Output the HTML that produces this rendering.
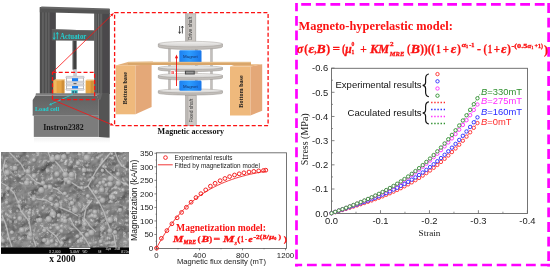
<!DOCTYPE html>
<html><head><meta charset="utf-8"><style>
html,body{margin:0;padding:0;background:#fff;}
body{width:550px;height:280px;overflow:hidden;position:relative;}
svg{position:absolute;left:0;top:0;display:block;}
</style></head><body>
<svg width="550" height="280" viewBox="0 0 550 280">
<rect width="550" height="280" fill="#fff"/>
<rect x="39.8" y="7" width="15.8" height="87" fill="#4e4e4e"/>
<rect x="42.4" y="11" width="1.1" height="83" fill="#6d6d6d"/>
<rect x="45.5" y="11" width="1.1" height="83" fill="#6d6d6d"/>
<rect x="48.4" y="11" width="1.1" height="83" fill="#6d6d6d"/>
<rect x="49.8" y="11" width="5.8" height="83" fill="#4a484b"/>
<rect x="94.2" y="9" width="15.4" height="85" fill="#4e4e4e"/>
<rect x="95.5" y="13" width="1.1" height="81" fill="#6d6d6d"/>
<rect x="98.0" y="13" width="1.1" height="81" fill="#6d6d6d"/>
<rect x="100.5" y="13" width="1.1" height="81" fill="#6d6d6d"/>
<rect x="103" y="13" width="6.6" height="81" fill="#4a484b"/>
<polygon points="39.8,7.6 109.6,9.6 109.6,14 39.8,12.2" fill="#545454"/>
<polygon points="41.5,6.6 109.6,8.6 109.6,10.2 39.8,8.6" fill="#666"/>
<polygon points="51.8,29.2 94.6,30.4 94.6,40.8 51.8,40.6" fill="#5a5a5a"/>
<polygon points="51.8,29.2 94.6,30.4 94.6,31.2 51.8,30.0" fill="#6a6a6a"/>
<rect x="72.7" y="40.6" width="3.9" height="29" fill="#404040"/>
<rect x="72.7" y="40.6" width="1.1" height="29" fill="#5c5c5c"/>
<path d="M54.2,32.5 V39 M53.2,37.6 L54.2,39.4 L55.2,37.6 M57.3,39.4 V32.8 M56.3,34.2 L57.3,32.4 L58.3,34.2" stroke="#1fd3d3" stroke-width="0.9" fill="none"/>
<text x="60" y="38.6" font-family="Liberation Serif, Times New Roman, serif" font-weight="bold" font-size="7.4" fill="#21d2d2" textLength="26.4" lengthAdjust="spacingAndGlyphs">Actuator</text>
<rect x="73.2" y="69.6" width="3.7" height="6.4" fill="#c9ccd2"/>
<rect x="53.4" y="80.2" width="11" height="13.4" fill="#e7a545"/>
<rect x="53.4" y="80.2" width="3.2" height="13.4" fill="#f0b860"/>
<rect x="61.6" y="80.2" width="2.8" height="13.4" fill="#cf8f3a"/>
<polygon points="53.4,80.2 55.5,79.2 65.5,79.2 64.4,80.2" fill="#f4c27a"/>
<rect x="85.6" y="80.4" width="8.2" height="13.6" fill="#e7a545"/>
<rect x="90.6" y="80.4" width="3.2" height="13.6" fill="#cf8f3a"/>
<polygon points="85.6,80.4 86.8,79.4 94,79.4 93.8,80.4" fill="#f4c27a"/>
<rect x="66.2" y="77" width="0.8" height="13" fill="#aaa"/>
<rect x="83.2" y="77" width="0.8" height="13" fill="#aaa"/>
<rect x="65.9" y="76.3" width="18.3" height="1.9" rx="0.9" fill="#e2e2e6" stroke="#9a9aa2" stroke-width="0.45"/>
<rect x="65.9" y="81.2" width="18.3" height="1.8" rx="0.9" fill="#e2e2e6" stroke="#9a9aa2" stroke-width="0.45"/>
<rect x="65.9" y="84.2" width="18.3" height="1.8" rx="0.9" fill="#e2e2e6" stroke="#9a9aa2" stroke-width="0.45"/>
<rect x="65.9" y="88.5" width="18.3" height="1.8" rx="0.9" fill="#e2e2e6" stroke="#9a9aa2" stroke-width="0.45"/>
<rect x="72" y="78.2" width="6.1" height="3" fill="#1a7ef0"/>
<rect x="72" y="86.0" width="6.1" height="2.5" fill="#1a7ef0"/>
<rect x="73.5" y="83.0" width="3" height="1.2" fill="#666"/>
<rect x="71.4" y="90.1" width="6.3" height="3.6" fill="#3fc4c4"/>
<rect x="72.6" y="91" width="1" height="2.4" fill="#236"/><rect x="75.4" y="91" width="1" height="2.4" fill="#236"/>
<defs><linearGradient id="bup" x1="0" x2="0" y1="0" y2="1"><stop offset="0" stop-color="#626262"/><stop offset="1" stop-color="#717171"/></linearGradient></defs>
<polygon points="32.7,100 35.6,95.6 97,95.6 98.8,100 98.8,115.2 32.7,115.2" fill="url(#bup)"/>
<polygon points="35.9,93.2 100.5,93.2 97,95.6 35.6,95.6" fill="#808080"/>
<polygon points="98.8,100 97,95.6 100.5,93.2 109.6,92.8 109.6,138.2 98.8,137" fill="#545454"/>
<polygon points="98.8,100 97,95.6 100.5,93.2 102.5,93.1 100.6,99.6" fill="#666"/>
<rect x="32.7" y="114.6" width="66.1" height="1" fill="#6e6e6e"/>
<rect x="33.8" y="115.6" width="65" height="21.3" fill="#7c7c7c"/>
<defs><linearGradient id="refl" x1="0" x2="0" y1="0" y2="1"><stop offset="0" stop-color="#f1f1f1"/><stop offset="1" stop-color="#fff"/></linearGradient></defs>
<rect x="34" y="137.6" width="76" height="5.5" fill="url(#refl)"/>
<text x="43.2" y="130.4" font-family="Liberation Serif, Times New Roman, serif" font-weight="bold" font-size="8.6" fill="#151515" textLength="40.4" lengthAdjust="spacingAndGlyphs">Instron2382</text>
<path d="M50.2,104.6 L73,94.2" stroke="#22d3d3" stroke-width="0.8"/>
<path d="M49.6,104.9 l2.3,-0.1 M49.6,104.9 l1.4,-1.8" stroke="#22d3d3" stroke-width="0.8"/>
<text x="35" y="110.7" font-family="Liberation Serif, Times New Roman, serif" font-weight="bold" font-size="7" fill="#22d3d3" textLength="24.2" lengthAdjust="spacingAndGlyphs">Load cell</text>
<polygon points="115.7,65.5 128,62 153,61.5 152,64.5 135.8,65.2" fill="#e3b07a"/>
<rect x="115.7" y="65.3" width="19.8" height="49" fill="#efb97c"/>
<polygon points="135.5,65.3 151.6,64.5 151.6,107 135.5,114.3" fill="#e4a878"/>
<text transform="translate(127.1,88.2) rotate(-90)" text-anchor="middle" font-family="Liberation Serif, Times New Roman, serif" font-weight="bold" font-size="6.1" fill="#1a1a1a">Bottom base</text>
<polygon points="230,66.6 236,64.2 262.2,64.2 250.4,66.6" fill="#e8b47c"/>
<rect x="230" y="66.6" width="20.4" height="48.9" fill="#efb97c"/>
<polygon points="250.4,66.6 262.2,64.2 262.2,110.7 250.4,115.5" fill="#e4a878"/>
<text transform="translate(242.8,91.5) rotate(-90)" text-anchor="middle" font-family="Liberation Serif, Times New Roman, serif" font-weight="bold" font-size="6.1" fill="#1a1a1a">Bottom base</text>
<defs><linearGradient id="sh" x1="0" x2="1"><stop offset="0" stop-color="#a8a8a8"/><stop offset="0.5" stop-color="#d8d6d2"/><stop offset="1" stop-color="#9a9a9a"/></linearGradient><linearGradient id="pl" x1="0" x2="0" y1="0" y2="1"><stop offset="0" stop-color="#f2f1f0"/><stop offset="1" stop-color="#d2d0ce"/></linearGradient><linearGradient id="mg" x1="0" x2="1"><stop offset="0" stop-color="#1c80f0"/><stop offset="0.45" stop-color="#2c9cff"/><stop offset="1" stop-color="#1876ea"/></linearGradient></defs>
<rect x="185.6" y="13.8" width="10.2" height="29.5" fill="#cdc9c5" stroke="#9d9995" stroke-width="0.6"/>
<rect x="186.2" y="14.2" width="2.2" height="29" fill="#b9b5b1"/>
<text transform="translate(192.4,28.4) rotate(-90)" text-anchor="middle" font-family="Liberation Sans, Arial, sans-serif" font-size="4.9" fill="#3a3a3a">Drive shaft</text>
<rect x="185.6" y="95.4" width="10.6" height="30" fill="#cdc9c5" stroke="#9d9995" stroke-width="0.6"/>
<rect x="186.2" y="95.8" width="2.2" height="29.5" fill="#b9b5b1"/>
<text transform="translate(192.6,110.5) rotate(-90)" text-anchor="middle" font-family="Liberation Sans, Arial, sans-serif" font-size="4.9" fill="#3a3a3a">Fixed shaft</text>
<rect x="168.4" y="48" width="2.1" height="42" fill="#c2bebb" stroke="#9a9794" stroke-width="0.3"/>
<rect x="195.2" y="48" width="2.1" height="42" fill="#c2bebb" stroke="#9a9794" stroke-width="0.3"/>
<rect x="210.4" y="48" width="2.1" height="42" fill="#c2bebb" stroke="#9a9794" stroke-width="0.3"/>
<path d="M158.3,44.05 V46.75 A32.1,2.75 0 0 0 222.5,46.75 V44.05 Z" fill="#c2beba" stroke="#8a8682" stroke-width="0.45"/>
<ellipse cx="190.4" cy="44.05" rx="32.1" ry="2.75" fill="url(#pl)" stroke="#9c9894" stroke-width="0.45"/>
<path d="M158.3,67.62 V69.68 A32.1,1.92 0 0 0 222.5,69.68 V67.62 Z" fill="#c2beba" stroke="#8a8682" stroke-width="0.45"/>
<ellipse cx="190.4" cy="67.62" rx="32.1" ry="1.92" fill="url(#pl)" stroke="#9c9894" stroke-width="0.45"/>
<path d="M158.3,75.55 V77.86 A32.1,2.14 0 0 0 222.5,77.86 V75.55 Z" fill="#c2beba" stroke="#8a8682" stroke-width="0.45"/>
<ellipse cx="190.4" cy="75.55" rx="32.1" ry="2.14" fill="url(#pl)" stroke="#9c9894" stroke-width="0.45"/>
<path d="M158.3,90.92 V93.08 A32.1,2.01 0 0 0 222.5,93.08 V90.92 Z" fill="#c2beba" stroke="#8a8682" stroke-width="0.45"/>
<ellipse cx="190.4" cy="90.92" rx="32.1" ry="2.01" fill="url(#pl)" stroke="#9c9894" stroke-width="0.45"/>
<rect x="179.3" y="50.2" width="22.2" height="12.6" rx="1.2" fill="url(#mg)"/>
<text x="190.4" y="58.3" text-anchor="middle" font-family="Liberation Sans, Arial, sans-serif" font-size="4.4" fill="#15306a">Magnet</text>
<rect x="179.3" y="80.6" width="22.2" height="10.2" rx="1.2" fill="url(#mg)"/>
<text x="190.4" y="87.6" text-anchor="middle" font-family="Liberation Sans, Arial, sans-serif" font-size="4.4" fill="#15306a">Magnet</text>
<rect x="128" y="61.9" width="123" height="3.1" fill="#d9a66a"/>
<rect x="128" y="61.9" width="123" height="0.9" fill="#e9c290"/>
<rect x="184.9" y="70.7" width="9.9" height="3.8" fill="#4a4a4a"/>
<rect x="186" y="71.6" width="7.7" height="1.9" fill="#9a9a9a"/>
<path d="M176.5,86 L176.5,57" stroke="#ee1111" stroke-width="0.9"/>
<polygon points="174.9,58.2 176.5,54.4 178.1,58.2" fill="#ee1111"/>
<rect x="170.6" y="70.2" width="4.2" height="4.2" fill="#fff"/>
<text x="172.7" y="73.8" text-anchor="middle" font-family="Liberation Serif, Times New Roman, serif" font-size="4.4" font-weight="bold" fill="#e11">B</text>
<path d="M179.6,26 L179.6,33 M178.6,31.8 L179.6,33.5 L180.6,31.8" stroke="#111" stroke-width="0.7" fill="none"/>
<path d="M182.4,33.5 L182.4,26.5 M181.4,27.7 L182.4,26 L183.4,27.7" stroke="#111" stroke-width="0.7" fill="none"/>
<text x="157.6" y="133.6" font-family="Liberation Serif, Times New Roman, serif" font-weight="bold" font-size="8" fill="#111">Magnetic accessory</text>
<rect x="114.6" y="12.6" width="153.5" height="113.1" fill="none" stroke="#fb1212" stroke-width="1.3" stroke-dasharray="4,2.2"/>
<rect x="52.5" y="72.4" width="42.1" height="27.3" fill="none" stroke="#fb1212" stroke-width="1.3" stroke-dasharray="4,2.2"/>
<path d="M52.5,72.4 L112.5,14.3 M52.5,99.7 L112.3,124.8" stroke="#fb1212" stroke-width="0.8"/>
<polygon points="113.8,13 110.2,14.4 112.3,16.4" fill="#fb1212"/>
<polygon points="114,125.5 110.1,125.6 111.2,122.9" fill="#fb1212"/>
<defs><filter id="semf" x="0" y="0" width="1" height="1" color-interpolation-filters="sRGB"><feTurbulence type="fractalNoise" baseFrequency="0.07" numOctaves="3" seed="11" result="n"/><feColorMatrix in="n" type="matrix" values="0 0 0 0 0  0 0 0 0 0  0 0 0 0 0  1 0 0 0 0" result="h"/><feDiffuseLighting in="h" lighting-color="#fff" surfaceScale="2.2" diffuseConstant="1" result="l"><feDistantLight azimuth="235" elevation="55"/></feDiffuseLighting><feComponentTransfer><feFuncR type="linear" slope="0.62" intercept="0.0"/><feFuncG type="linear" slope="0.62" intercept="0.0"/><feFuncB type="linear" slope="0.62" intercept="0.0"/></feComponentTransfer></filter><filter id="semf2" x="0" y="0" width="1" height="1" color-interpolation-filters="sRGB"><feTurbulence type="turbulence" baseFrequency="0.22" numOctaves="2" seed="4" result="n"/><feColorMatrix in="n" type="matrix" values="0 0 0 0 1  0 0 0 0 1  0 0 0 0 1  2.2 0 0 0 -0.55"/></filter><radialGradient id="blob" cx="0.4" cy="0.4" r="0.65"><stop offset="0" stop-color="#c6c6c6"/><stop offset="0.6" stop-color="#a8a8a8"/><stop offset="1" stop-color="#8a8a8a"/></radialGradient><filter id="soft"><feGaussianBlur stdDeviation="0.45"/></filter><clipPath id="semc"><rect x="1" y="152" width="127.5" height="95.6"/></clipPath></defs>
<rect x="1" y="152" width="127.5" height="95.6" fill="#888" filter="url(#semf)"/>
<rect x="1" y="152" width="127.5" height="95.6" fill="#000" filter="url(#semf2)" opacity="0.55"/>
<g clip-path="url(#semc)" filter="url(#soft)">
<path d="M0.9,182.9 L7.9,186.9 L14.9,193.9 L18.9,202.9 L21.9,211.9 L25.9,216.9 L29.9,221.9 L31.9,232.9 L36.9,246.9" stroke="#6a6a6a" stroke-width="1.5" fill="none" opacity="0.35" stroke-linejoin="round"/>
<path d="M0.0,182.0 L7.0,186.0 L14.0,193.0 L18.0,202.0 L21.0,211.0 L25.0,216.0 L29.0,221.0 L31.0,232.0 L36.0,246.0" stroke="#c8c8c8" stroke-width="1.4" fill="none" opacity="0.75" stroke-linejoin="round"/>
<path d="M10.9,153.9 L14.9,157.9 L21.9,164.9 L25.9,171.9 L31.9,177.9 L36.9,182.9 L46.9,186.9 L57.9,189.9 L64.9,195.9" stroke="#6a6a6a" stroke-width="1.5" fill="none" opacity="0.35" stroke-linejoin="round"/>
<path d="M10.0,153.0 L14.0,157.0 L21.0,164.0 L25.0,171.0 L31.0,177.0 L36.0,182.0 L46.0,186.0 L57.0,189.0 L64.0,195.0" stroke="#c8c8c8" stroke-width="1.4" fill="none" opacity="0.75" stroke-linejoin="round"/>
<path d="M48.9,152.9 L50.9,157.9 L56.9,162.9 L61.9,168.9 L66.9,176.9 L71.9,182.9 L77.9,186.9 L82.9,189.9 L88.9,186.9 L96.9,171.9 L101.9,164.9 L107.9,157.9 L111.9,152.9" stroke="#6a6a6a" stroke-width="1.5" fill="none" opacity="0.35" stroke-linejoin="round"/>
<path d="M48.0,152.0 L50.0,157.0 L56.0,162.0 L61.0,168.0 L66.0,176.0 L71.0,182.0 L77.0,186.0 L82.0,189.0 L88.0,186.0 L96.0,171.0 L101.0,164.0 L107.0,157.0 L111.0,152.0" stroke="#c8c8c8" stroke-width="1.4" fill="none" opacity="0.75" stroke-linejoin="round"/>
<path d="M88.9,186.9 L95.9,196.9 L100.9,204.9 L104.9,212.9 L107.9,221.9 L110.9,229.9 L114.9,236.9 L116.9,247.9" stroke="#6a6a6a" stroke-width="1.5" fill="none" opacity="0.35" stroke-linejoin="round"/>
<path d="M88.0,186.0 L95.0,196.0 L100.0,204.0 L104.0,212.0 L107.0,221.0 L110.0,229.0 L114.0,236.0 L116.0,247.0" stroke="#c8c8c8" stroke-width="1.4" fill="none" opacity="0.75" stroke-linejoin="round"/>
<path d="M30.9,197.9 L38.9,199.9 L46.9,200.9 L55.9,205.9 L64.9,209.9 L71.9,212.9 L78.9,216.9" stroke="#6a6a6a" stroke-width="1.5" fill="none" opacity="0.35" stroke-linejoin="round"/>
<path d="M30.0,197.0 L38.0,199.0 L46.0,200.0 L55.0,205.0 L64.0,209.0 L71.0,212.0 L78.0,216.0" stroke="#c8c8c8" stroke-width="1.4" fill="none" opacity="0.75" stroke-linejoin="round"/>
<path d="M104.9,167.9 L107.9,171.9 L114.9,177.9 L121.9,182.9 L130.9,186.9" stroke="#6a6a6a" stroke-width="1.5" fill="none" opacity="0.35" stroke-linejoin="round"/>
<path d="M104.0,167.0 L107.0,171.0 L114.0,177.0 L121.0,182.0 L130.0,186.0" stroke="#c8c8c8" stroke-width="1.4" fill="none" opacity="0.75" stroke-linejoin="round"/>
<path d="M2.9,215.9 L6.9,225.9 L9.9,238.9 L12.9,247.9" stroke="#6a6a6a" stroke-width="1.5" fill="none" opacity="0.35" stroke-linejoin="round"/>
<path d="M2.0,215.0 L6.0,225.0 L9.0,238.0 L12.0,247.0" stroke="#c8c8c8" stroke-width="1.4" fill="none" opacity="0.75" stroke-linejoin="round"/>
<path d="M70.9,218.9 L74.9,226.9 L80.9,232.9 L86.9,240.9 L90.9,247.9" stroke="#6a6a6a" stroke-width="1.5" fill="none" opacity="0.35" stroke-linejoin="round"/>
<path d="M70.0,218.0 L74.0,226.0 L80.0,232.0 L86.0,240.0 L90.0,247.0" stroke="#c8c8c8" stroke-width="1.4" fill="none" opacity="0.75" stroke-linejoin="round"/>
<path d="M115.9,152.9 L118.9,160.9 L122.9,166.9 L129.9,170.9" stroke="#6a6a6a" stroke-width="1.5" fill="none" opacity="0.35" stroke-linejoin="round"/>
<path d="M115.0,152.0 L118.0,160.0 L122.0,166.0 L129.0,170.0" stroke="#c8c8c8" stroke-width="1.4" fill="none" opacity="0.75" stroke-linejoin="round"/>
<path d="M40.9,225.9 L48.9,230.9 L56.9,236.9 L62.9,246.9" stroke="#6a6a6a" stroke-width="1.5" fill="none" opacity="0.35" stroke-linejoin="round"/>
<path d="M40.0,225.0 L48.0,230.0 L56.0,236.0 L62.0,246.0" stroke="#c8c8c8" stroke-width="1.4" fill="none" opacity="0.75" stroke-linejoin="round"/>
<path d="M5.9,160.9 L3.9,170.9 L6.9,176.9" stroke="#6a6a6a" stroke-width="1.5" fill="none" opacity="0.35" stroke-linejoin="round"/>
<path d="M5.0,160.0 L3.0,170.0 L6.0,176.0" stroke="#c8c8c8" stroke-width="1.4" fill="none" opacity="0.75" stroke-linejoin="round"/>
<path d="M92.9,200.9 L86.9,208.9 L84.9,218.9 L90.9,226.9 L96.9,232.9" stroke="#6a6a6a" stroke-width="1.5" fill="none" opacity="0.35" stroke-linejoin="round"/>
<path d="M92.0,200.0 L86.0,208.0 L84.0,218.0 L90.0,226.0 L96.0,232.0" stroke="#c8c8c8" stroke-width="1.4" fill="none" opacity="0.75" stroke-linejoin="round"/>
<circle cx="25.5" cy="171.6" r="1.4" fill="#6e6e6e" opacity="0.45"/>
<circle cx="25.0" cy="171.0" r="1.4" fill="url(#blob)"/>
<circle cx="34.5" cy="176.6" r="2.4" fill="#6e6e6e" opacity="0.45"/>
<circle cx="34.0" cy="176.0" r="2.4" fill="url(#blob)"/>
<circle cx="43.5" cy="183.6" r="2.3" fill="#6e6e6e" opacity="0.45"/>
<circle cx="43.0" cy="183.0" r="2.3" fill="url(#blob)"/>
<circle cx="50.5" cy="187.6" r="2.5" fill="#6e6e6e" opacity="0.45"/>
<circle cx="50.0" cy="187.0" r="2.5" fill="url(#blob)"/>
<circle cx="57.5" cy="174.6" r="2.7" fill="#6e6e6e" opacity="0.45"/>
<circle cx="57.0" cy="174.0" r="2.7" fill="url(#blob)"/>
<circle cx="62.5" cy="160.6" r="2.3" fill="#6e6e6e" opacity="0.45"/>
<circle cx="62.0" cy="160.0" r="2.3" fill="url(#blob)"/>
<circle cx="68.5" cy="152.6" r="2.4" fill="#6e6e6e" opacity="0.45"/>
<circle cx="68.0" cy="152.0" r="2.4" fill="url(#blob)"/>
<circle cx="78.5" cy="163.6" r="2.3" fill="#6e6e6e" opacity="0.45"/>
<circle cx="78.0" cy="163.0" r="2.3" fill="url(#blob)"/>
<circle cx="84.5" cy="170.6" r="2.5" fill="#6e6e6e" opacity="0.45"/>
<circle cx="84.0" cy="170.0" r="2.5" fill="url(#blob)"/>
<circle cx="67.5" cy="196.6" r="1.8" fill="#6e6e6e" opacity="0.45"/>
<circle cx="67.0" cy="196.0" r="1.8" fill="url(#blob)"/>
<circle cx="72.5" cy="203.6" r="2.4" fill="#6e6e6e" opacity="0.45"/>
<circle cx="72.0" cy="203.0" r="2.4" fill="url(#blob)"/>
<circle cx="57.5" cy="205.6" r="2.6" fill="#6e6e6e" opacity="0.45"/>
<circle cx="57.0" cy="205.0" r="2.6" fill="url(#blob)"/>
<circle cx="43.5" cy="208.6" r="1.7" fill="#6e6e6e" opacity="0.45"/>
<circle cx="43.0" cy="208.0" r="1.7" fill="url(#blob)"/>
<circle cx="53.5" cy="214.6" r="3.2" fill="#6e6e6e" opacity="0.45"/>
<circle cx="53.0" cy="214.0" r="3.2" fill="url(#blob)"/>
<circle cx="63.5" cy="220.6" r="2.7" fill="#6e6e6e" opacity="0.45"/>
<circle cx="63.0" cy="220.0" r="2.7" fill="url(#blob)"/>
<circle cx="75.5" cy="210.6" r="3.1" fill="#6e6e6e" opacity="0.45"/>
<circle cx="75.0" cy="210.0" r="3.1" fill="url(#blob)"/>
<circle cx="93.5" cy="178.6" r="1.9" fill="#6e6e6e" opacity="0.45"/>
<circle cx="93.0" cy="178.0" r="1.9" fill="url(#blob)"/>
<circle cx="96.5" cy="192.6" r="2.2" fill="#6e6e6e" opacity="0.45"/>
<circle cx="96.0" cy="192.0" r="2.2" fill="url(#blob)"/>
<circle cx="100.5" cy="183.6" r="1.9" fill="#6e6e6e" opacity="0.45"/>
<circle cx="100.0" cy="183.0" r="1.9" fill="url(#blob)"/>
<circle cx="89.5" cy="160.6" r="1.5" fill="#6e6e6e" opacity="0.45"/>
<circle cx="89.0" cy="160.0" r="1.5" fill="url(#blob)"/>
<circle cx="93.5" cy="153.6" r="1.4" fill="#6e6e6e" opacity="0.45"/>
<circle cx="93.0" cy="153.0" r="1.4" fill="url(#blob)"/>
<circle cx="106.5" cy="185.6" r="1.8" fill="#6e6e6e" opacity="0.45"/>
<circle cx="106.0" cy="185.0" r="1.8" fill="url(#blob)"/>
<circle cx="112.5" cy="197.6" r="3.0" fill="#6e6e6e" opacity="0.45"/>
<circle cx="112.0" cy="197.0" r="3.0" fill="url(#blob)"/>
<circle cx="104.5" cy="228.6" r="1.7" fill="#6e6e6e" opacity="0.45"/>
<circle cx="104.0" cy="228.0" r="1.7" fill="url(#blob)"/>
<circle cx="15.5" cy="168.6" r="2.6" fill="#6e6e6e" opacity="0.45"/>
<circle cx="15.0" cy="168.0" r="2.6" fill="url(#blob)"/>
<circle cx="20.5" cy="176.6" r="1.8" fill="#6e6e6e" opacity="0.45"/>
<circle cx="20.0" cy="176.0" r="1.8" fill="url(#blob)"/>
<circle cx="8.5" cy="195.6" r="1.5" fill="#6e6e6e" opacity="0.45"/>
<circle cx="8.0" cy="195.0" r="1.5" fill="url(#blob)"/>
<circle cx="30.5" cy="210.6" r="1.7" fill="#6e6e6e" opacity="0.45"/>
<circle cx="30.0" cy="210.0" r="1.7" fill="url(#blob)"/>
<circle cx="40.5" cy="220.6" r="2.6" fill="#6e6e6e" opacity="0.45"/>
<circle cx="40.0" cy="220.0" r="2.6" fill="url(#blob)"/>
<circle cx="85.5" cy="224.6" r="2.3" fill="#6e6e6e" opacity="0.45"/>
<circle cx="85.0" cy="224.0" r="2.3" fill="url(#blob)"/>
<circle cx="95.5" cy="212.6" r="2.4" fill="#6e6e6e" opacity="0.45"/>
<circle cx="95.0" cy="212.0" r="2.4" fill="url(#blob)"/>
<circle cx="118.5" cy="174.6" r="2.2" fill="#6e6e6e" opacity="0.45"/>
<circle cx="118.0" cy="174.0" r="2.2" fill="url(#blob)"/>
<circle cx="123.5" cy="190.6" r="1.9" fill="#6e6e6e" opacity="0.45"/>
<circle cx="123.0" cy="190.0" r="1.9" fill="url(#blob)"/>
<circle cx="120.5" cy="210.6" r="2.3" fill="#6e6e6e" opacity="0.45"/>
<circle cx="120.0" cy="210.0" r="2.3" fill="url(#blob)"/>
<circle cx="110.5" cy="220.6" r="3.1" fill="#6e6e6e" opacity="0.45"/>
<circle cx="110.0" cy="220.0" r="3.1" fill="url(#blob)"/>
<circle cx="60.5" cy="230.6" r="1.8" fill="#6e6e6e" opacity="0.45"/>
<circle cx="60.0" cy="230.0" r="1.8" fill="url(#blob)"/>
<circle cx="22.5" cy="230.6" r="2.7" fill="#6e6e6e" opacity="0.45"/>
<circle cx="22.0" cy="230.0" r="2.7" fill="url(#blob)"/>
<circle cx="47.5" cy="240.6" r="1.9" fill="#6e6e6e" opacity="0.45"/>
<circle cx="47.0" cy="240.0" r="1.9" fill="url(#blob)"/>
<circle cx="70.5" cy="242.6" r="1.7" fill="#6e6e6e" opacity="0.45"/>
<circle cx="70.0" cy="242.0" r="1.7" fill="url(#blob)"/>
<circle cx="34.5" cy="160.6" r="2.0" fill="#6e6e6e" opacity="0.45"/>
<circle cx="34.0" cy="160.0" r="2.0" fill="url(#blob)"/>
<circle cx="103.7" cy="229.4" r="1.6" fill="#6e6e6e" opacity="0.45"/>
<circle cx="103.2" cy="228.8" r="1.6" fill="url(#blob)"/>
<circle cx="66.9" cy="179.8" r="3.1" fill="#6e6e6e" opacity="0.45"/>
<circle cx="66.4" cy="179.2" r="3.1" fill="url(#blob)"/>
<circle cx="8.3" cy="189.0" r="2.1" fill="#6e6e6e" opacity="0.45"/>
<circle cx="7.8" cy="188.4" r="2.1" fill="url(#blob)"/>
<circle cx="53.4" cy="156.9" r="1.7" fill="#6e6e6e" opacity="0.45"/>
<circle cx="52.9" cy="156.3" r="1.7" fill="url(#blob)"/>
<circle cx="7.7" cy="247.5" r="1.4" fill="#6e6e6e" opacity="0.45"/>
<circle cx="7.2" cy="246.9" r="1.4" fill="url(#blob)"/>
<circle cx="84.4" cy="174.9" r="1.5" fill="#6e6e6e" opacity="0.45"/>
<circle cx="83.9" cy="174.3" r="1.5" fill="url(#blob)"/>
<circle cx="56.7" cy="245.1" r="1.8" fill="#6e6e6e" opacity="0.45"/>
<circle cx="56.2" cy="244.5" r="1.8" fill="url(#blob)"/>
<circle cx="115.5" cy="232.8" r="2.2" fill="#6e6e6e" opacity="0.45"/>
<circle cx="115.0" cy="232.2" r="2.2" fill="url(#blob)"/>
<circle cx="51.3" cy="199.4" r="2.5" fill="#6e6e6e" opacity="0.45"/>
<circle cx="50.8" cy="198.8" r="2.5" fill="url(#blob)"/>
<circle cx="87.4" cy="158.4" r="3.2" fill="#6e6e6e" opacity="0.45"/>
<circle cx="86.9" cy="157.8" r="3.2" fill="url(#blob)"/>
<circle cx="72.1" cy="178.4" r="3.0" fill="#6e6e6e" opacity="0.45"/>
<circle cx="71.6" cy="177.8" r="3.0" fill="url(#blob)"/>
<circle cx="113.2" cy="158.7" r="1.8" fill="#6e6e6e" opacity="0.45"/>
<circle cx="112.7" cy="158.1" r="1.8" fill="url(#blob)"/>
<circle cx="87.8" cy="235.3" r="2.5" fill="#6e6e6e" opacity="0.45"/>
<circle cx="87.3" cy="234.7" r="2.5" fill="url(#blob)"/>
<circle cx="30.4" cy="237.7" r="3.1" fill="#6e6e6e" opacity="0.45"/>
<circle cx="29.9" cy="237.1" r="3.1" fill="url(#blob)"/>
<circle cx="112.3" cy="154.4" r="1.6" fill="#6e6e6e" opacity="0.45"/>
<circle cx="111.8" cy="153.8" r="1.6" fill="url(#blob)"/>
<circle cx="91.4" cy="152.7" r="2.9" fill="#6e6e6e" opacity="0.45"/>
<circle cx="90.9" cy="152.1" r="2.9" fill="url(#blob)"/>
<circle cx="65.4" cy="194.1" r="2.1" fill="#6e6e6e" opacity="0.45"/>
<circle cx="64.9" cy="193.5" r="2.1" fill="url(#blob)"/>
<circle cx="27.3" cy="183.5" r="2.8" fill="#6e6e6e" opacity="0.45"/>
<circle cx="26.8" cy="182.9" r="2.8" fill="url(#blob)"/>
<circle cx="103.9" cy="182.7" r="2.0" fill="#6e6e6e" opacity="0.45"/>
<circle cx="103.4" cy="182.1" r="2.0" fill="url(#blob)"/>
<circle cx="20.4" cy="219.0" r="2.5" fill="#6e6e6e" opacity="0.45"/>
<circle cx="19.9" cy="218.4" r="2.5" fill="url(#blob)"/>
<circle cx="58.5" cy="228.5" r="2.3" fill="#6e6e6e" opacity="0.45"/>
<circle cx="58.0" cy="227.9" r="2.3" fill="url(#blob)"/>
<circle cx="31.4" cy="183.0" r="1.6" fill="#6e6e6e" opacity="0.45"/>
<circle cx="30.9" cy="182.4" r="1.6" fill="url(#blob)"/>
<circle cx="103.1" cy="200.8" r="2.8" fill="#6e6e6e" opacity="0.45"/>
<circle cx="102.6" cy="200.2" r="2.8" fill="url(#blob)"/>
<circle cx="65.8" cy="175.0" r="2.9" fill="#6e6e6e" opacity="0.45"/>
<circle cx="65.3" cy="174.4" r="2.9" fill="url(#blob)"/>
<circle cx="3.3" cy="241.3" r="2.3" fill="#6e6e6e" opacity="0.45"/>
<circle cx="2.8" cy="240.7" r="2.3" fill="url(#blob)"/>
<circle cx="12.4" cy="232.9" r="2.1" fill="#6e6e6e" opacity="0.45"/>
<circle cx="11.9" cy="232.3" r="2.1" fill="url(#blob)"/>
<circle cx="48.2" cy="242.9" r="3.1" fill="#6e6e6e" opacity="0.45"/>
<circle cx="47.7" cy="242.3" r="3.1" fill="url(#blob)"/>
<circle cx="52.2" cy="241.6" r="2.1" fill="#6e6e6e" opacity="0.45"/>
<circle cx="51.7" cy="241.0" r="2.1" fill="url(#blob)"/>
<circle cx="72.1" cy="175.4" r="3.0" fill="#6e6e6e" opacity="0.45"/>
<circle cx="71.6" cy="174.8" r="3.0" fill="url(#blob)"/>
<circle cx="95.7" cy="216.7" r="2.2" fill="#6e6e6e" opacity="0.45"/>
<circle cx="95.2" cy="216.1" r="2.2" fill="url(#blob)"/>
<circle cx="88.4" cy="196.7" r="2.1" fill="#6e6e6e" opacity="0.45"/>
<circle cx="87.9" cy="196.1" r="2.1" fill="url(#blob)"/>
<circle cx="29.7" cy="213.5" r="2.1" fill="#6e6e6e" opacity="0.45"/>
<circle cx="29.2" cy="212.9" r="2.1" fill="url(#blob)"/>
<circle cx="15.1" cy="218.4" r="1.5" fill="#6e6e6e" opacity="0.45"/>
<circle cx="14.6" cy="217.8" r="1.5" fill="url(#blob)"/>
<circle cx="82.2" cy="188.4" r="1.9" fill="#6e6e6e" opacity="0.45"/>
<circle cx="81.7" cy="187.8" r="1.9" fill="url(#blob)"/>
<circle cx="102.9" cy="171.0" r="1.8" fill="#6e6e6e" opacity="0.45"/>
<circle cx="102.4" cy="170.4" r="1.8" fill="url(#blob)"/>
<circle cx="51.1" cy="228.4" r="1.5" fill="#6e6e6e" opacity="0.45"/>
<circle cx="50.6" cy="227.8" r="1.5" fill="url(#blob)"/>
<circle cx="49.8" cy="220.4" r="2.4" fill="#6e6e6e" opacity="0.45"/>
<circle cx="49.3" cy="219.8" r="2.4" fill="url(#blob)"/>
<circle cx="79.3" cy="242.0" r="2.2" fill="#6e6e6e" opacity="0.45"/>
<circle cx="78.8" cy="241.4" r="2.2" fill="url(#blob)"/>
<circle cx="127.4" cy="221.3" r="1.4" fill="#6e6e6e" opacity="0.45"/>
<circle cx="126.9" cy="220.7" r="1.4" fill="url(#blob)"/>
<circle cx="104.2" cy="167.1" r="1.7" fill="#6e6e6e" opacity="0.45"/>
<circle cx="103.7" cy="166.5" r="1.7" fill="url(#blob)"/>
<circle cx="92.0" cy="233.1" r="3.1" fill="#6e6e6e" opacity="0.45"/>
<circle cx="91.5" cy="232.5" r="3.1" fill="url(#blob)"/>
<circle cx="52.5" cy="205.2" r="1.6" fill="#6e6e6e" opacity="0.45"/>
<circle cx="52.0" cy="204.6" r="1.6" fill="url(#blob)"/>
<circle cx="62.4" cy="243.7" r="2.1" fill="#6e6e6e" opacity="0.45"/>
<circle cx="61.9" cy="243.1" r="2.1" fill="url(#blob)"/>
<circle cx="41.8" cy="190.8" r="3.1" fill="#6e6e6e" opacity="0.45"/>
<circle cx="41.3" cy="190.2" r="3.1" fill="url(#blob)"/>
<circle cx="1.6" cy="192.5" r="1.6" fill="#6e6e6e" opacity="0.45"/>
<circle cx="1.1" cy="191.9" r="1.6" fill="url(#blob)"/>
<circle cx="81.7" cy="241.4" r="2.1" fill="#6e6e6e" opacity="0.45"/>
<circle cx="81.2" cy="240.8" r="2.1" fill="url(#blob)"/>
<circle cx="118.8" cy="183.7" r="2.8" fill="#6e6e6e" opacity="0.45"/>
<circle cx="118.3" cy="183.1" r="2.8" fill="url(#blob)"/>
<circle cx="127.1" cy="170.4" r="1.4" fill="#6e6e6e" opacity="0.45"/>
<circle cx="126.6" cy="169.8" r="1.4" fill="url(#blob)"/>
<circle cx="106.1" cy="167.5" r="1.5" fill="#6e6e6e" opacity="0.45"/>
<circle cx="105.6" cy="166.9" r="1.5" fill="url(#blob)"/>
<circle cx="52.9" cy="159.6" r="3.1" fill="#6e6e6e" opacity="0.45"/>
<circle cx="52.4" cy="159.0" r="3.1" fill="url(#blob)"/>
<circle cx="110.5" cy="231.3" r="2.6" fill="#6e6e6e" opacity="0.45"/>
<circle cx="110.0" cy="230.7" r="2.6" fill="url(#blob)"/>
<circle cx="19.3" cy="202.7" r="1.9" fill="#6e6e6e" opacity="0.45"/>
<circle cx="18.8" cy="202.1" r="1.9" fill="url(#blob)"/>
<circle cx="34.3" cy="199.3" r="2.3" fill="#6e6e6e" opacity="0.45"/>
<circle cx="33.8" cy="198.7" r="2.3" fill="url(#blob)"/>
<circle cx="71.8" cy="162.7" r="1.8" fill="#6e6e6e" opacity="0.45"/>
<circle cx="71.3" cy="162.1" r="1.8" fill="url(#blob)"/>
<circle cx="111.3" cy="179.1" r="3.0" fill="#6e6e6e" opacity="0.45"/>
<circle cx="110.8" cy="178.5" r="3.0" fill="url(#blob)"/>
<circle cx="58.3" cy="158.0" r="3.1" fill="#6e6e6e" opacity="0.45"/>
<circle cx="57.8" cy="157.4" r="3.1" fill="url(#blob)"/>
<circle cx="1.8" cy="171.1" r="1.5" fill="#6e6e6e" opacity="0.45"/>
<circle cx="1.3" cy="170.5" r="1.5" fill="url(#blob)"/>
<circle cx="44.9" cy="240.8" r="2.3" fill="#6e6e6e" opacity="0.45"/>
<circle cx="44.4" cy="240.2" r="2.3" fill="url(#blob)"/>
<circle cx="114.5" cy="198.2" r="1.7" fill="#6e6e6e" opacity="0.45"/>
<circle cx="114.0" cy="197.6" r="1.7" fill="url(#blob)"/>
<circle cx="59.3" cy="216.0" r="2.1" fill="#6e6e6e" opacity="0.45"/>
<circle cx="58.8" cy="215.4" r="2.1" fill="url(#blob)"/>
<circle cx="110.6" cy="184.6" r="2.7" fill="#6e6e6e" opacity="0.45"/>
<circle cx="110.1" cy="184.0" r="2.7" fill="url(#blob)"/>
<circle cx="102.3" cy="190.5" r="2.7" fill="#6e6e6e" opacity="0.45"/>
<circle cx="101.8" cy="189.9" r="2.7" fill="url(#blob)"/>
<circle cx="76.9" cy="222.7" r="1.7" fill="#6e6e6e" opacity="0.45"/>
<circle cx="76.4" cy="222.1" r="1.7" fill="url(#blob)"/>
<circle cx="65.2" cy="218.2" r="2.0" fill="#6e6e6e" opacity="0.45"/>
<circle cx="64.7" cy="217.6" r="2.0" fill="url(#blob)"/>
<circle cx="90.1" cy="153.1" r="2.2" fill="#6e6e6e" opacity="0.45"/>
<circle cx="89.6" cy="152.5" r="2.2" fill="url(#blob)"/>
<circle cx="6.5" cy="166.8" r="2.1" fill="#6e6e6e" opacity="0.45"/>
<circle cx="6.0" cy="166.2" r="2.1" fill="url(#blob)"/>
<circle cx="28.6" cy="171.9" r="2.6" fill="#6e6e6e" opacity="0.45"/>
<circle cx="28.1" cy="171.3" r="2.6" fill="url(#blob)"/>
<circle cx="7.7" cy="173.2" r="2.8" fill="#6e6e6e" opacity="0.45"/>
<circle cx="7.2" cy="172.6" r="2.8" fill="url(#blob)"/>
<circle cx="77.8" cy="236.8" r="2.0" fill="#6e6e6e" opacity="0.45"/>
<circle cx="77.3" cy="236.2" r="2.0" fill="url(#blob)"/>
<circle cx="45.9" cy="187.4" r="2.2" fill="#6e6e6e" opacity="0.45"/>
<circle cx="45.4" cy="186.8" r="2.2" fill="url(#blob)"/>
<circle cx="54.4" cy="217.2" r="1.5" fill="#6e6e6e" opacity="0.45"/>
<circle cx="53.9" cy="216.6" r="1.5" fill="url(#blob)"/>
<circle cx="101.2" cy="242.0" r="2.1" fill="#6e6e6e" opacity="0.45"/>
<circle cx="100.7" cy="241.4" r="2.1" fill="url(#blob)"/>
<circle cx="49.2" cy="219.7" r="3.1" fill="#6e6e6e" opacity="0.45"/>
<circle cx="48.7" cy="219.1" r="3.1" fill="url(#blob)"/>
<circle cx="44.9" cy="230.9" r="2.3" fill="#6e6e6e" opacity="0.45"/>
<circle cx="44.4" cy="230.3" r="2.3" fill="url(#blob)"/>
<circle cx="30.8" cy="235.3" r="2.4" fill="#6e6e6e" opacity="0.45"/>
<circle cx="30.3" cy="234.7" r="2.4" fill="url(#blob)"/>
<circle cx="65.6" cy="221.5" r="2.5" fill="#6e6e6e" opacity="0.45"/>
<circle cx="65.1" cy="220.9" r="2.5" fill="url(#blob)"/>
<circle cx="69.4" cy="182.6" r="2.4" fill="#6e6e6e" opacity="0.45"/>
<circle cx="68.9" cy="182.0" r="2.4" fill="url(#blob)"/>
<circle cx="64.3" cy="157.4" r="2.8" fill="#6e6e6e" opacity="0.45"/>
<circle cx="63.8" cy="156.8" r="2.8" fill="url(#blob)"/>
<circle cx="7.0" cy="202.9" r="1.9" fill="#6e6e6e" opacity="0.45"/>
<circle cx="6.5" cy="202.3" r="1.9" fill="url(#blob)"/>
<circle cx="62.1" cy="231.7" r="2.0" fill="#6e6e6e" opacity="0.45"/>
<circle cx="61.6" cy="231.1" r="2.0" fill="url(#blob)"/>
</g>
<rect x="1" y="247.5" width="128" height="6.4" fill="#050505"/>
<rect x="69.3" y="247.7" width="21" height="1.3" fill="#eee"/>
<text x="49" y="252.6" font-family="Liberation Sans, Arial, sans-serif" font-size="2.9" fill="#e0e0e0" textLength="11.5" lengthAdjust="spacingAndGlyphs">X 2,000</text>
<text x="70.3" y="252.6" font-family="Liberation Sans, Arial, sans-serif" font-size="2.9" fill="#e0e0e0" textLength="9" lengthAdjust="spacingAndGlyphs">5.0kV</text>
<text x="82.6" y="252.6" font-family="Liberation Sans, Arial, sans-serif" font-size="2.9" fill="#e0e0e0" textLength="4.9" lengthAdjust="spacingAndGlyphs">WD</text>
<text x="98" y="252.6" font-family="Liberation Sans, Arial, sans-serif" font-size="2.9" fill="#e0e0e0" textLength="3.4" lengthAdjust="spacingAndGlyphs">SE</text>
<text x="105.5" y="249.9" font-family="Liberation Sans, Arial, sans-serif" font-size="2.9" fill="#e0e0e0" textLength="5.7" lengthAdjust="spacingAndGlyphs">10μm</text>
<text x="114.5" y="249.9" font-family="Liberation Sans, Arial, sans-serif" font-size="2.9" fill="#e0e0e0" textLength="5.7" lengthAdjust="spacingAndGlyphs">JSM</text>
<text x="121" y="252.6" font-family="Liberation Sans, Arial, sans-serif" font-size="2.9" fill="#e0e0e0" textLength="8.2" lengthAdjust="spacingAndGlyphs">08 12 Dec</text>
<text x="49.3" y="262.4" font-family="Liberation Serif, Times New Roman, serif" font-weight="bold" font-size="9.5" fill="#111">x 2000</text>
<rect x="156.5" y="152.8" width="130" height="95.7" fill="none" stroke="#666" stroke-width="0.9"/>
<path d="M154.4,248.00 H156.7" stroke="#555" stroke-width="0.7"/>
<text x="153.3" y="250.90" text-anchor="end" font-family="Liberation Sans, Arial, sans-serif" font-size="8" fill="#1a1a1a">0</text>
<path d="M154.4,234.47 H156.7" stroke="#555" stroke-width="0.7"/>
<text x="153.3" y="237.37" text-anchor="end" font-family="Liberation Sans, Arial, sans-serif" font-size="8" fill="#1a1a1a">50</text>
<path d="M154.4,220.94 H156.7" stroke="#555" stroke-width="0.7"/>
<text x="153.3" y="223.84" text-anchor="end" font-family="Liberation Sans, Arial, sans-serif" font-size="8" fill="#1a1a1a">100</text>
<path d="M154.4,207.41 H156.7" stroke="#555" stroke-width="0.7"/>
<text x="153.3" y="210.31" text-anchor="end" font-family="Liberation Sans, Arial, sans-serif" font-size="8" fill="#1a1a1a">150</text>
<path d="M154.4,193.88 H156.7" stroke="#555" stroke-width="0.7"/>
<text x="153.3" y="196.78" text-anchor="end" font-family="Liberation Sans, Arial, sans-serif" font-size="8" fill="#1a1a1a">200</text>
<path d="M154.4,180.35 H156.7" stroke="#555" stroke-width="0.7"/>
<text x="153.3" y="183.25" text-anchor="end" font-family="Liberation Sans, Arial, sans-serif" font-size="8" fill="#1a1a1a">250</text>
<path d="M154.4,166.82 H156.7" stroke="#555" stroke-width="0.7"/>
<text x="153.3" y="169.72" text-anchor="end" font-family="Liberation Sans, Arial, sans-serif" font-size="8" fill="#1a1a1a">300</text>
<path d="M154.4,153.29 H156.7" stroke="#555" stroke-width="0.7"/>
<text x="153.3" y="156.19" text-anchor="end" font-family="Liberation Sans, Arial, sans-serif" font-size="8" fill="#1a1a1a">350</text>
<path d="M155.5,241.24 H156.7" stroke="#555" stroke-width="0.6"/>
<path d="M155.5,227.70 H156.7" stroke="#555" stroke-width="0.6"/>
<path d="M155.5,214.18 H156.7" stroke="#555" stroke-width="0.6"/>
<path d="M155.5,200.64 H156.7" stroke="#555" stroke-width="0.6"/>
<path d="M155.5,187.12 H156.7" stroke="#555" stroke-width="0.6"/>
<path d="M155.5,173.58 H156.7" stroke="#555" stroke-width="0.6"/>
<path d="M155.5,160.06 H156.7" stroke="#555" stroke-width="0.6"/>
<path d="M156.50,248 V250.3" stroke="#555" stroke-width="0.7"/>
<text x="156.50" y="257.6" text-anchor="middle" font-family="Liberation Sans, Arial, sans-serif" font-size="7.8" fill="#1a1a1a">0</text>
<path d="M199.50,248 V250.3" stroke="#555" stroke-width="0.7"/>
<text x="199.50" y="257.6" text-anchor="middle" font-family="Liberation Sans, Arial, sans-serif" font-size="7.8" fill="#1a1a1a">400</text>
<path d="M242.50,248 V250.3" stroke="#555" stroke-width="0.7"/>
<text x="242.50" y="257.6" text-anchor="middle" font-family="Liberation Sans, Arial, sans-serif" font-size="7.8" fill="#1a1a1a">800</text>
<path d="M285.50,248 V250.3" stroke="#555" stroke-width="0.7"/>
<text x="285.50" y="257.6" text-anchor="middle" font-family="Liberation Sans, Arial, sans-serif" font-size="7.8" fill="#1a1a1a">1200</text>
<path d="M178.00,248 V249.3" stroke="#555" stroke-width="0.6"/>
<path d="M221.00,248 V249.3" stroke="#555" stroke-width="0.6"/>
<path d="M264.00,248 V249.3" stroke="#555" stroke-width="0.6"/>
<text x="221.5" y="264.4" text-anchor="middle" font-family="Liberation Sans, Arial, sans-serif" font-size="7.6" fill="#1a1a1a">Magnetic flux density (mT)</text>
<text transform="translate(137.3,200.3) rotate(-90)" text-anchor="middle" font-family="Liberation Sans, Arial, sans-serif" font-size="8.6" fill="#1a1a1a">Magnetization (kA/m)</text>
<path d="M156.50,248.00 L157.89,245.42 L159.27,242.93 L160.66,240.50 L162.04,238.16 L163.43,235.88 L164.81,233.68 L166.20,231.54 L167.58,229.47 L168.97,227.46 L170.35,225.52 L171.74,223.63 L173.12,221.80 L174.51,220.03 L175.89,218.31 L177.28,216.65 L178.66,215.03 L180.05,213.47 L181.43,211.95 L182.82,210.48 L184.21,209.06 L185.59,207.68 L186.98,206.34 L188.36,205.04 L189.75,203.79 L191.13,202.57 L192.52,201.39 L193.90,200.24 L195.29,199.13 L196.67,198.06 L198.06,197.01 L199.44,196.00 L200.83,195.02 L202.21,194.07 L203.60,193.15 L204.98,192.26 L206.37,191.40 L207.75,190.56 L209.14,189.75 L210.52,188.96 L211.91,188.19 L213.30,187.46 L214.68,186.74 L216.07,186.04 L217.45,185.37 L218.84,184.72 L220.22,184.08 L221.61,183.47 L222.99,182.88 L224.38,182.30 L225.76,181.74 L227.15,181.20 L228.53,180.67 L229.92,180.17 L231.30,179.67 L232.69,179.19 L234.07,178.73 L235.46,178.28 L236.84,177.85 L238.23,177.42 L239.62,177.02 L241.00,176.62 L242.39,176.24 L243.77,175.86 L245.16,175.50 L246.54,175.15 L247.93,174.81 L249.31,174.48 L250.70,174.17 L252.08,173.86 L253.47,173.56 L254.85,173.27 L256.24,172.99 L257.62,172.71 L259.01,172.45 L260.39,172.19 L261.78,171.95 L263.16,171.71 L264.55,171.47 L265.94,171.25" stroke="#f02020" stroke-width="0.9" fill="none"/>
<circle cx="156.60" cy="248.20" r="1.9" fill="none" stroke="#f42020" stroke-width="1.0"/>
<circle cx="161.40" cy="238.40" r="1.9" fill="none" stroke="#f42020" stroke-width="1.0"/>
<circle cx="166.90" cy="230.60" r="1.9" fill="none" stroke="#f42020" stroke-width="1.0"/>
<circle cx="171.90" cy="223.80" r="1.9" fill="none" stroke="#f42020" stroke-width="1.0"/>
<circle cx="177.10" cy="217.80" r="1.9" fill="none" stroke="#f42020" stroke-width="1.0"/>
<circle cx="181.60" cy="212.40" r="1.9" fill="none" stroke="#f42020" stroke-width="1.0"/>
<circle cx="186.40" cy="207.30" r="1.9" fill="none" stroke="#f42020" stroke-width="1.0"/>
<circle cx="191.10" cy="202.20" r="1.9" fill="none" stroke="#f42020" stroke-width="1.0"/>
<circle cx="196.00" cy="197.60" r="1.9" fill="none" stroke="#f42020" stroke-width="1.0"/>
<circle cx="200.90" cy="193.70" r="1.9" fill="none" stroke="#f42020" stroke-width="1.0"/>
<circle cx="205.70" cy="189.90" r="1.9" fill="none" stroke="#f42020" stroke-width="1.0"/>
<circle cx="210.40" cy="186.20" r="1.9" fill="none" stroke="#f42020" stroke-width="1.0"/>
<circle cx="215.10" cy="183.30" r="1.9" fill="none" stroke="#f42020" stroke-width="1.0"/>
<circle cx="220.10" cy="180.70" r="1.9" fill="none" stroke="#f42020" stroke-width="1.0"/>
<circle cx="224.90" cy="178.50" r="1.9" fill="none" stroke="#f42020" stroke-width="1.0"/>
<circle cx="229.60" cy="176.60" r="1.9" fill="none" stroke="#f42020" stroke-width="1.0"/>
<circle cx="234.50" cy="175.00" r="1.9" fill="none" stroke="#f42020" stroke-width="1.0"/>
<circle cx="239.20" cy="173.80" r="1.9" fill="none" stroke="#f42020" stroke-width="1.0"/>
<circle cx="243.90" cy="172.80" r="1.9" fill="none" stroke="#f42020" stroke-width="1.0"/>
<circle cx="249.00" cy="172.00" r="1.9" fill="none" stroke="#f42020" stroke-width="1.0"/>
<circle cx="253.80" cy="171.40" r="1.9" fill="none" stroke="#f42020" stroke-width="1.0"/>
<circle cx="258.70" cy="170.90" r="1.9" fill="none" stroke="#f42020" stroke-width="1.0"/>
<circle cx="263.50" cy="170.50" r="1.9" fill="none" stroke="#f42020" stroke-width="1.0"/>
<circle cx="265.80" cy="170.20" r="1.9" fill="none" stroke="#f42020" stroke-width="1.0"/>
<circle cx="165.5" cy="157.6" r="1.85" fill="none" stroke="#f42020" stroke-width="0.95"/>
<text x="174.6" y="159.6" font-family="Liberation Sans, Arial, sans-serif" font-size="6.4" fill="#222">Experimental results</text>
<path d="M157.9,164.8 H172.7" stroke="#f02020" stroke-width="0.9"/>
<text x="174.6" y="167.5" font-family="Liberation Sans, Arial, sans-serif" font-size="6.4" fill="#222">Fitted by magnetization model</text>
<text x="176.1" y="230.7" font-family="Liberation Serif, Times New Roman, serif" font-weight="bold" font-size="9.6" fill="#fb1212">Magnetization model:</text>
<text x="173.0" y="242.3" font-size="8.8" font-style="italic" textLength="10.40" lengthAdjust="spacingAndGlyphs" font-family="Liberation Serif, Times New Roman, serif" font-weight="bold" fill="#fb1212" stroke="#fb1212" stroke-width="0.3">M</text>
<text x="183.6" y="244.4" font-size="5.2" font-style="italic" textLength="12.30" lengthAdjust="spacingAndGlyphs" font-family="Liberation Serif, Times New Roman, serif" font-weight="bold" fill="#fb1212" stroke="#fb1212" stroke-width="0.3">MRE</text>
<text x="197.6" y="242.3" font-size="8.8" textLength="3.10" lengthAdjust="spacingAndGlyphs" font-family="Liberation Serif, Times New Roman, serif" font-weight="bold" fill="#fb1212" stroke="#fb1212" stroke-width="0.3">(</text>
<text x="201.4" y="242.3" font-size="8.8" font-style="italic" textLength="7.60" lengthAdjust="spacingAndGlyphs" font-family="Liberation Serif, Times New Roman, serif" font-weight="bold" fill="#fb1212" stroke="#fb1212" stroke-width="0.3">B</text>
<text x="209.3" y="242.3" font-size="8.8" textLength="2.90" lengthAdjust="spacingAndGlyphs" font-family="Liberation Serif, Times New Roman, serif" font-weight="bold" fill="#fb1212" stroke="#fb1212" stroke-width="0.3">)</text>
<text x="213.4" y="242.3" font-size="8.8" textLength="6.60" lengthAdjust="spacingAndGlyphs" font-family="Liberation Serif, Times New Roman, serif" font-weight="bold" fill="#fb1212" stroke="#fb1212" stroke-width="0.3">=</text>
<text x="223.0" y="242.3" font-size="8.8" font-style="italic" textLength="11.40" lengthAdjust="spacingAndGlyphs" font-family="Liberation Serif, Times New Roman, serif" font-weight="bold" fill="#fb1212" stroke="#fb1212" stroke-width="0.3">M</text>
<text x="234.6" y="244.5" font-size="4.8" font-style="italic" textLength="2.40" lengthAdjust="spacingAndGlyphs" font-family="Liberation Serif, Times New Roman, serif" font-weight="bold" fill="#fb1212" stroke="#fb1212" stroke-width="0.3">S</text>
<text x="237.3" y="242.3" font-size="8.8" textLength="3.10" lengthAdjust="spacingAndGlyphs" font-family="Liberation Serif, Times New Roman, serif" font-weight="bold" fill="#fb1212" stroke="#fb1212" stroke-width="0.3">(</text>
<text x="240.7" y="242.3" font-size="8.8" textLength="3.10" lengthAdjust="spacingAndGlyphs" font-family="Liberation Serif, Times New Roman, serif" font-weight="bold" fill="#fb1212" stroke="#fb1212" stroke-width="0.3">1</text>
<text x="245.1" y="242.3" font-size="8.8" textLength="2.10" lengthAdjust="spacingAndGlyphs" font-family="Liberation Serif, Times New Roman, serif" font-weight="bold" fill="#fb1212" stroke="#fb1212" stroke-width="0.3">-</text>
<text x="248.2" y="242.3" font-size="8.8" font-style="italic" textLength="4.50" lengthAdjust="spacingAndGlyphs" font-family="Liberation Serif, Times New Roman, serif" font-weight="bold" fill="#fb1212" stroke="#fb1212" stroke-width="0.3">e</text>
<text x="253.6" y="238.8" font-size="5.4" textLength="8.70" lengthAdjust="spacingAndGlyphs" font-family="Liberation Serif, Times New Roman, serif" font-weight="bold" fill="#fb1212" stroke="#fb1212" stroke-width="0.3">-2(</text>
<text x="262.5" y="238.8" font-size="5.4" font-style="italic" textLength="4.00" lengthAdjust="spacingAndGlyphs" font-family="Liberation Serif, Times New Roman, serif" font-weight="bold" fill="#fb1212" stroke="#fb1212" stroke-width="0.3">B</text>
<text x="266.6" y="238.8" font-size="5.4" textLength="2.40" lengthAdjust="spacingAndGlyphs" font-family="Liberation Serif, Times New Roman, serif" font-weight="bold" fill="#fb1212" stroke="#fb1212" stroke-width="0.3">/</text>
<text x="269.2" y="238.8" font-size="5.4" font-style="italic" textLength="5.00" lengthAdjust="spacingAndGlyphs" font-family="Liberation Serif, Times New Roman, serif" font-weight="bold" fill="#fb1212" stroke="#fb1212" stroke-width="0.3">μ</text>
<text x="274.3" y="240.0" font-size="3.8" textLength="2.10" lengthAdjust="spacingAndGlyphs" font-family="Liberation Serif, Times New Roman, serif" font-weight="bold" fill="#fb1212" stroke="#fb1212" stroke-width="0.3">0</text>
<text x="278.6" y="239.2" font-size="6.4" textLength="2.60" lengthAdjust="spacingAndGlyphs" font-family="Liberation Serif, Times New Roman, serif" font-weight="bold" fill="#fb1212" stroke="#fb1212" stroke-width="0.3">)</text>
<text x="283.7" y="242.3" font-size="8.8" textLength="3.10" lengthAdjust="spacingAndGlyphs" font-family="Liberation Serif, Times New Roman, serif" font-weight="bold" fill="#fb1212" stroke="#fb1212" stroke-width="0.3">)</text>
<path d="M296.4,4.4 H548.6" stroke="#ff00ff" stroke-width="2.7" stroke-dasharray="9.8,4.8" stroke-dashoffset="9.8"/>
<path d="M548.6,3.1 V266.4" stroke="#ff00ff" stroke-width="2.7" stroke-dasharray="9.8,4.8" stroke-dashoffset="0"/>
<path d="M296.5,3.1 V266.4" stroke="#ff00ff" stroke-width="2.7" stroke-dasharray="9.8,4.8" stroke-dashoffset="1.75"/>
<path d="M295.1,265.0 H550" stroke="#ff00ff" stroke-width="2.7" stroke-dasharray="9.8,4.8" stroke-dashoffset="2.75"/>
<text x="298.5" y="30.2" font-family="Liberation Serif, Times New Roman, serif" font-weight="bold" font-size="12.4" fill="#fb1212">Magneto-hyperelastic model:</text>
<text x="297.0" y="53.2" font-size="11.6" font-style="italic" textLength="6.20" lengthAdjust="spacingAndGlyphs" font-family="Liberation Serif, Times New Roman, serif" font-weight="bold" fill="#fb1212" stroke="#fb1212" stroke-width="0.3">σ</text>
<text x="304.2" y="53.2" font-size="11.6" textLength="3.60" lengthAdjust="spacingAndGlyphs" font-family="Liberation Serif, Times New Roman, serif" font-weight="bold" fill="#fb1212" stroke="#fb1212" stroke-width="0.3">(</text>
<text x="308.5" y="53.2" font-size="11.6" font-style="italic" textLength="5.70" lengthAdjust="spacingAndGlyphs" font-family="Liberation Serif, Times New Roman, serif" font-weight="bold" fill="#fb1212" stroke="#fb1212" stroke-width="0.3">ε</text>
<text x="314.2" y="53.2" font-size="11.6" textLength="2.00" lengthAdjust="spacingAndGlyphs" font-family="Liberation Serif, Times New Roman, serif" font-weight="bold" fill="#fb1212" stroke="#fb1212" stroke-width="0.3">,</text>
<text x="316.6" y="53.2" font-size="11.6" font-style="italic" textLength="9.20" lengthAdjust="spacingAndGlyphs" font-family="Liberation Serif, Times New Roman, serif" font-weight="bold" fill="#fb1212" stroke="#fb1212" stroke-width="0.3">B</text>
<text x="326.3" y="53.2" font-size="11.6" textLength="3.90" lengthAdjust="spacingAndGlyphs" font-family="Liberation Serif, Times New Roman, serif" font-weight="bold" fill="#fb1212" stroke="#fb1212" stroke-width="0.3">)</text>
<text x="332.4" y="53.2" font-size="11.6" textLength="7.50" lengthAdjust="spacingAndGlyphs" font-family="Liberation Serif, Times New Roman, serif" font-weight="bold" fill="#fb1212" stroke="#fb1212" stroke-width="0.3">=</text>
<text x="342.0" y="53.2" font-size="11.6" textLength="3.30" lengthAdjust="spacingAndGlyphs" font-family="Liberation Serif, Times New Roman, serif" font-weight="bold" fill="#fb1212" stroke="#fb1212" stroke-width="0.3">(</text>
<text x="345.3" y="53.2" font-size="11.6" font-style="italic" textLength="6.50" lengthAdjust="spacingAndGlyphs" font-family="Liberation Serif, Times New Roman, serif" font-weight="bold" fill="#fb1212" stroke="#fb1212" stroke-width="0.3">μ</text>
<text x="351.4" y="46.4" font-size="7" textLength="2.80" lengthAdjust="spacingAndGlyphs" font-family="Liberation Serif, Times New Roman, serif" font-weight="bold" fill="#fb1212" stroke="#fb1212" stroke-width="0.3">0</text>
<text x="351.4" y="54.4" font-size="7" textLength="2.80" lengthAdjust="spacingAndGlyphs" font-family="Liberation Serif, Times New Roman, serif" font-weight="bold" fill="#fb1212" stroke="#fb1212" stroke-width="0.3">1</text>
<text x="360.2" y="53.2" font-size="11.6" textLength="6.50" lengthAdjust="spacingAndGlyphs" font-family="Liberation Serif, Times New Roman, serif" font-weight="bold" fill="#fb1212" stroke="#fb1212" stroke-width="0.3">+</text>
<text x="370.0" y="53.2" font-size="11.6" font-style="italic" textLength="8.60" lengthAdjust="spacingAndGlyphs" font-family="Liberation Serif, Times New Roman, serif" font-weight="bold" fill="#fb1212" stroke="#fb1212" stroke-width="0.3">K</text>
<text x="378.2" y="53.2" font-size="11.6" font-style="italic" textLength="10.80" lengthAdjust="spacingAndGlyphs" font-family="Liberation Serif, Times New Roman, serif" font-weight="bold" fill="#fb1212" stroke="#fb1212" stroke-width="0.3">M</text>
<text x="390.0" y="46.2" font-size="7" textLength="3.60" lengthAdjust="spacingAndGlyphs" font-family="Liberation Serif, Times New Roman, serif" font-weight="bold" fill="#fb1212" stroke="#fb1212" stroke-width="0.3">2</text>
<text x="389.8" y="56.0" font-size="7" font-style="italic" textLength="14.40" lengthAdjust="spacingAndGlyphs" font-family="Liberation Serif, Times New Roman, serif" font-weight="bold" fill="#fb1212" stroke="#fb1212" stroke-width="0.3">MRE</text>
<text x="407.0" y="53.2" font-size="11.6" textLength="3.40" lengthAdjust="spacingAndGlyphs" font-family="Liberation Serif, Times New Roman, serif" font-weight="bold" fill="#fb1212" stroke="#fb1212" stroke-width="0.3">(</text>
<text x="410.7" y="53.2" font-size="11.6" font-style="italic" textLength="9.20" lengthAdjust="spacingAndGlyphs" font-family="Liberation Serif, Times New Roman, serif" font-weight="bold" fill="#fb1212" stroke="#fb1212" stroke-width="0.3">B</text>
<text x="420.2" y="53.2" font-size="11.6" textLength="14.90" lengthAdjust="spacingAndGlyphs" font-family="Liberation Serif, Times New Roman, serif" font-weight="bold" fill="#fb1212" stroke="#fb1212" stroke-width="0.3">))((</text>
<text x="436.2" y="53.2" font-size="11.6" textLength="4.40" lengthAdjust="spacingAndGlyphs" font-family="Liberation Serif, Times New Roman, serif" font-weight="bold" fill="#fb1212" stroke="#fb1212" stroke-width="0.3">1</text>
<text x="442.7" y="53.2" font-size="11.6" textLength="6.20" lengthAdjust="spacingAndGlyphs" font-family="Liberation Serif, Times New Roman, serif" font-weight="bold" fill="#fb1212" stroke="#fb1212" stroke-width="0.3">+</text>
<text x="450.7" y="53.2" font-size="11.6" font-style="italic" textLength="5.50" lengthAdjust="spacingAndGlyphs" font-family="Liberation Serif, Times New Roman, serif" font-weight="bold" fill="#fb1212" stroke="#fb1212" stroke-width="0.3">ε</text>
<text x="457.3" y="53.2" font-size="11.6" textLength="3.60" lengthAdjust="spacingAndGlyphs" font-family="Liberation Serif, Times New Roman, serif" font-weight="bold" fill="#fb1212" stroke="#fb1212" stroke-width="0.3">)</text>
<text x="461.8" y="47.0" font-size="6.4" font-style="italic" textLength="4.40" lengthAdjust="spacingAndGlyphs" font-family="Liberation Serif, Times New Roman, serif" font-weight="bold" fill="#fb1212" stroke="#fb1212" stroke-width="0.3">α</text>
<text x="466.0" y="48.3" font-size="3.8" textLength="2.20" lengthAdjust="spacingAndGlyphs" font-family="Liberation Serif, Times New Roman, serif" font-weight="bold" fill="#fb1212" stroke="#fb1212" stroke-width="0.3">1</text>
<text x="469.2" y="47.0" font-size="6.4" textLength="5.20" lengthAdjust="spacingAndGlyphs" font-family="Liberation Serif, Times New Roman, serif" font-weight="bold" fill="#fb1212" stroke="#fb1212" stroke-width="0.3">-1</text>
<text x="477.1" y="53.2" font-size="11.6" textLength="4.00" lengthAdjust="spacingAndGlyphs" font-family="Liberation Serif, Times New Roman, serif" font-weight="bold" fill="#fb1212" stroke="#fb1212" stroke-width="0.3">-</text>
<text x="483.6" y="53.2" font-size="11.6" textLength="3.30" lengthAdjust="spacingAndGlyphs" font-family="Liberation Serif, Times New Roman, serif" font-weight="bold" fill="#fb1212" stroke="#fb1212" stroke-width="0.3">(</text>
<text x="488.0" y="53.2" font-size="11.6" textLength="4.00" lengthAdjust="spacingAndGlyphs" font-family="Liberation Serif, Times New Roman, serif" font-weight="bold" fill="#fb1212" stroke="#fb1212" stroke-width="0.3">1</text>
<text x="493.8" y="53.2" font-size="11.6" textLength="6.20" lengthAdjust="spacingAndGlyphs" font-family="Liberation Serif, Times New Roman, serif" font-weight="bold" fill="#fb1212" stroke="#fb1212" stroke-width="0.3">+</text>
<text x="501.1" y="53.2" font-size="11.6" font-style="italic" textLength="5.50" lengthAdjust="spacingAndGlyphs" font-family="Liberation Serif, Times New Roman, serif" font-weight="bold" fill="#fb1212" stroke="#fb1212" stroke-width="0.3">ε</text>
<text x="507.3" y="53.2" font-size="11.6" textLength="3.60" lengthAdjust="spacingAndGlyphs" font-family="Liberation Serif, Times New Roman, serif" font-weight="bold" fill="#fb1212" stroke="#fb1212" stroke-width="0.3">)</text>
<text x="511.5" y="48.2" font-size="6.4" textLength="16.00" lengthAdjust="spacingAndGlyphs" font-family="Liberation Serif, Times New Roman, serif" font-weight="bold" fill="#fb1212" stroke="#fb1212" stroke-width="0.3">-(0.5</text>
<text x="527.6" y="48.2" font-size="6.4" font-style="italic" textLength="3.80" lengthAdjust="spacingAndGlyphs" font-family="Liberation Serif, Times New Roman, serif" font-weight="bold" fill="#fb1212" stroke="#fb1212" stroke-width="0.3">α</text>
<text x="531.4" y="49.4" font-size="3.8" textLength="1.80" lengthAdjust="spacingAndGlyphs" font-family="Liberation Serif, Times New Roman, serif" font-weight="bold" fill="#fb1212" stroke="#fb1212" stroke-width="0.3">1</text>
<text x="534.6" y="48.2" font-size="6.4" textLength="8.30" lengthAdjust="spacingAndGlyphs" font-family="Liberation Serif, Times New Roman, serif" font-weight="bold" fill="#fb1212" stroke="#fb1212" stroke-width="0.3">+1)</text>
<text x="544.0" y="53.800000000000004" font-size="12.6" textLength="4.00" lengthAdjust="spacingAndGlyphs" font-family="Liberation Serif, Times New Roman, serif" font-weight="bold" fill="#fb1212" stroke="#fb1212" stroke-width="0.3">)</text>
<rect x="331.5" y="68.3" width="196" height="145.2" fill="none" stroke="#666" stroke-width="0.9"/>
<path d="M331.5,213.20 H334.5" stroke="#666" stroke-width="0.8"/>
<text x="328.2" y="216.50" text-anchor="end" font-family="Liberation Sans, Arial, sans-serif" font-size="9.4" fill="#222">0.0</text>
<path d="M331.5,189.02 H334.5" stroke="#666" stroke-width="0.8"/>
<text x="328.2" y="192.32" text-anchor="end" font-family="Liberation Sans, Arial, sans-serif" font-size="9.4" fill="#222">-0.1</text>
<path d="M331.5,164.84 H334.5" stroke="#666" stroke-width="0.8"/>
<text x="328.2" y="168.14" text-anchor="end" font-family="Liberation Sans, Arial, sans-serif" font-size="9.4" fill="#222">-0.2</text>
<path d="M331.5,140.66 H334.5" stroke="#666" stroke-width="0.8"/>
<text x="328.2" y="143.96" text-anchor="end" font-family="Liberation Sans, Arial, sans-serif" font-size="9.4" fill="#222">-0.3</text>
<path d="M331.5,116.48 H334.5" stroke="#666" stroke-width="0.8"/>
<text x="328.2" y="119.78" text-anchor="end" font-family="Liberation Sans, Arial, sans-serif" font-size="9.4" fill="#222">-0.4</text>
<path d="M331.5,92.30 H334.5" stroke="#666" stroke-width="0.8"/>
<text x="328.2" y="95.60" text-anchor="end" font-family="Liberation Sans, Arial, sans-serif" font-size="9.4" fill="#222">-0.5</text>
<path d="M331.5,68.12 H334.5" stroke="#666" stroke-width="0.8"/>
<text x="328.2" y="71.42" text-anchor="end" font-family="Liberation Sans, Arial, sans-serif" font-size="9.4" fill="#222">-0.6</text>
<path d="M331.5,201.11 H333" stroke="#666" stroke-width="0.7"/>
<path d="M331.5,176.93 H333" stroke="#666" stroke-width="0.7"/>
<path d="M331.5,152.75 H333" stroke="#666" stroke-width="0.7"/>
<path d="M331.5,128.57 H333" stroke="#666" stroke-width="0.7"/>
<path d="M331.5,104.39 H333" stroke="#666" stroke-width="0.7"/>
<path d="M331.5,80.21 H333" stroke="#666" stroke-width="0.7"/>
<path d="M331.50,213.2 V210.2" stroke="#666" stroke-width="0.8"/>
<text x="331.50" y="224.4" text-anchor="middle" font-family="Liberation Sans, Arial, sans-serif" font-size="9.4" fill="#222">0.0</text>
<path d="M380.48,213.2 V210.2" stroke="#666" stroke-width="0.8"/>
<text x="380.48" y="224.4" text-anchor="middle" font-family="Liberation Sans, Arial, sans-serif" font-size="9.4" fill="#222">-0.1</text>
<path d="M429.45,213.2 V210.2" stroke="#666" stroke-width="0.8"/>
<text x="429.45" y="224.4" text-anchor="middle" font-family="Liberation Sans, Arial, sans-serif" font-size="9.4" fill="#222">-0.2</text>
<path d="M478.42,213.2 V210.2" stroke="#666" stroke-width="0.8"/>
<text x="478.42" y="224.4" text-anchor="middle" font-family="Liberation Sans, Arial, sans-serif" font-size="9.4" fill="#222">-0.3</text>
<path d="M527.40,213.2 V210.2" stroke="#666" stroke-width="0.8"/>
<text x="527.40" y="224.4" text-anchor="middle" font-family="Liberation Sans, Arial, sans-serif" font-size="9.4" fill="#222">-0.4</text>
<path d="M355.99,213.2 V211.7" stroke="#666" stroke-width="0.7"/>
<path d="M404.96,213.2 V211.7" stroke="#666" stroke-width="0.7"/>
<path d="M453.94,213.2 V211.7" stroke="#666" stroke-width="0.7"/>
<path d="M502.91,213.2 V211.7" stroke="#666" stroke-width="0.7"/>
<text x="429.5" y="236.2" text-anchor="middle" font-family="Liberation Serif, Times New Roman, serif" font-size="9.2" fill="#222">Strain</text>
<text transform="translate(308.2,139.3) rotate(-90)" text-anchor="middle" font-family="Liberation Serif, Times New Roman, serif" font-size="10" fill="#222">Stress (MPa)</text>
<path d="M331.50,213.20 L332.73,212.83 L333.97,212.46 L335.20,212.09 L336.44,211.72 L337.67,211.35 L338.91,210.98 L340.14,210.61 L341.38,210.23 L342.61,209.86 L343.85,209.49 L345.08,209.11 L346.32,208.73 L347.55,208.36 L348.79,207.98 L350.02,207.59 L351.25,207.21 L352.49,206.82 L353.72,206.44 L354.96,206.04 L356.19,205.65 L357.43,205.25 L358.66,204.86 L359.90,204.45 L361.13,204.05 L362.37,203.64 L363.60,203.23 L364.84,202.81 L366.07,202.39 L367.31,201.96 L368.54,201.54 L369.77,201.10 L371.01,200.66 L372.24,200.22 L373.48,199.77 L374.71,199.32 L375.95,198.86 L377.18,198.40 L378.42,197.93 L379.65,197.45 L380.89,196.97 L382.12,196.48 L383.36,195.98 L384.59,195.48 L385.83,194.97 L387.06,194.46 L388.29,193.93 L389.53,193.40 L390.76,192.86 L392.00,192.32 L393.23,191.76 L394.47,191.20 L395.70,190.63 L396.94,190.05 L398.17,189.46 L399.41,188.86 L400.64,188.25 L401.88,187.63 L403.11,187.01 L404.35,186.37 L405.58,185.72 L406.81,185.07 L408.05,184.40 L409.28,183.72 L410.52,183.03 L411.75,182.33 L412.99,181.61 L414.22,180.89 L415.46,180.15 L416.69,179.41 L417.93,178.65 L419.16,177.87 L420.40,177.09 L421.63,176.29 L422.87,175.48 L424.10,174.65 L425.33,173.81 L426.57,172.96 L427.80,172.10 L429.04,171.22 L430.27,170.32 L431.51,169.41 L432.74,168.49 L433.98,167.55 L435.21,166.59 L436.45,165.62 L437.68,164.64 L438.92,163.63 L440.15,162.62 L441.39,161.58 L442.62,160.53 L443.85,159.46 L445.09,158.38 L446.32,157.27 L447.56,156.15 L448.79,155.02 L450.03,153.86 L451.26,152.69 L452.50,151.49 L453.73,150.28 L454.97,149.05 L456.20,147.80 L457.44,146.53 L458.67,145.25 L459.91,143.94 L461.14,142.61 L462.37,141.26 L463.61,139.89 L464.84,138.50 L466.08,137.09 L467.31,135.66 L468.55,134.21 L469.78,132.73 L471.02,131.23 L472.25,129.72 L473.49,128.17 L474.72,126.61 L475.96,125.02 L477.19,123.41 L478.42,121.78" stroke="#ff2a2a" stroke-width="0.9" fill="none" stroke-dasharray="1,1"/>
<path d="M331.50,213.20 L332.73,212.79 L333.97,212.38 L335.20,211.98 L336.44,211.57 L337.67,211.16 L338.91,210.75 L340.14,210.34 L341.38,209.93 L342.61,209.52 L343.85,209.11 L345.08,208.69 L346.32,208.28 L347.55,207.86 L348.79,207.44 L350.02,207.02 L351.25,206.60 L352.49,206.18 L353.72,205.75 L354.96,205.32 L356.19,204.89 L357.43,204.45 L358.66,204.01 L359.90,203.57 L361.13,203.13 L362.37,202.68 L363.60,202.23 L364.84,201.77 L366.07,201.31 L367.31,200.85 L368.54,200.38 L369.77,199.91 L371.01,199.43 L372.24,198.95 L373.48,198.46 L374.71,197.97 L375.95,197.47 L377.18,196.96 L378.42,196.45 L379.65,195.93 L380.89,195.41 L382.12,194.88 L383.36,194.34 L384.59,193.80 L385.83,193.25 L387.06,192.69 L388.29,192.13 L389.53,191.55 L390.76,190.97 L392.00,190.38 L393.23,189.78 L394.47,189.18 L395.70,188.56 L396.94,187.94 L398.17,187.30 L399.41,186.66 L400.64,186.01 L401.88,185.35 L403.11,184.68 L404.35,183.99 L405.58,183.30 L406.81,182.60 L408.05,181.88 L409.28,181.16 L410.52,180.42 L411.75,179.67 L412.99,178.91 L414.22,178.14 L415.46,177.36 L416.69,176.56 L417.93,175.75 L419.16,174.93 L420.40,174.10 L421.63,173.25 L422.87,172.39 L424.10,171.51 L425.33,170.62 L426.57,169.72 L427.80,168.80 L429.04,167.87 L430.27,166.92 L431.51,165.96 L432.74,164.98 L433.98,163.99 L435.21,162.98 L436.45,161.96 L437.68,160.92 L438.92,159.86 L440.15,158.78 L441.39,157.69 L442.62,156.59 L443.85,155.46 L445.09,154.32 L446.32,153.16 L447.56,151.98 L448.79,150.78 L450.03,149.57 L451.26,148.33 L452.50,147.08 L453.73,145.81 L454.97,144.52 L456.20,143.21 L457.44,141.88 L458.67,140.52 L459.91,139.15 L461.14,137.76 L462.37,136.35 L463.61,134.91 L464.84,133.46 L466.08,131.98 L467.31,130.48 L468.55,128.96 L469.78,127.42 L471.02,125.85 L472.25,124.27 L473.49,122.65 L474.72,121.02 L475.96,119.36 L477.19,117.68 L478.42,115.97" stroke="#2a2aff" stroke-width="0.9" fill="none" stroke-dasharray="1,1"/>
<path d="M331.50,213.20 L332.73,212.76 L333.97,212.31 L335.20,211.87 L336.44,211.43 L337.67,210.98 L338.91,210.53 L340.14,210.09 L341.38,209.64 L342.61,209.19 L343.85,208.74 L345.08,208.28 L346.32,207.82 L347.55,207.37 L348.79,206.90 L350.02,206.44 L351.25,205.97 L352.49,205.50 L353.72,205.03 L354.96,204.55 L356.19,204.07 L357.43,203.58 L358.66,203.09 L359.90,202.60 L361.13,202.10 L362.37,201.59 L363.60,201.08 L364.84,200.57 L366.07,200.05 L367.31,199.52 L368.54,198.99 L369.77,198.45 L371.01,197.91 L372.24,197.36 L373.48,196.80 L374.71,196.23 L375.95,195.66 L377.18,195.08 L378.42,194.49 L379.65,193.90 L380.89,193.30 L382.12,192.69 L383.36,192.07 L384.59,191.44 L385.83,190.80 L387.06,190.16 L388.29,189.50 L389.53,188.84 L390.76,188.16 L392.00,187.48 L393.23,186.79 L394.47,186.08 L395.70,185.37 L396.94,184.64 L398.17,183.91 L399.41,183.16 L400.64,182.40 L401.88,181.63 L403.11,180.85 L404.35,180.06 L405.58,179.26 L406.81,178.44 L408.05,177.61 L409.28,176.77 L410.52,175.91 L411.75,175.04 L412.99,174.16 L414.22,173.26 L415.46,172.36 L416.69,171.43 L417.93,170.50 L419.16,169.54 L420.40,168.58 L421.63,167.60 L422.87,166.60 L424.10,165.59 L425.33,164.56 L426.57,163.52 L427.80,162.47 L429.04,161.39 L430.27,160.30 L431.51,159.20 L432.74,158.07 L433.98,156.94 L435.21,155.78 L436.45,154.61 L437.68,153.42 L438.92,152.21 L440.15,150.98 L441.39,149.74 L442.62,148.47 L443.85,147.19 L445.09,145.89 L446.32,144.58 L447.56,143.24 L448.79,141.88 L450.03,140.51 L451.26,139.11 L452.50,137.70 L453.73,136.26 L454.97,134.81 L456.20,133.33 L457.44,131.83 L458.67,130.31 L459.91,128.78 L461.14,127.22 L462.37,125.63 L463.61,124.03 L464.84,122.41 L466.08,120.76 L467.31,119.09 L468.55,117.40 L469.78,115.68 L471.02,113.95 L472.25,112.19 L473.49,110.40 L474.72,108.59 L475.96,106.76 L477.19,104.91 L478.42,103.03" stroke="#ff2aff" stroke-width="0.9" fill="none" stroke-dasharray="1,1"/>
<path d="M331.50,213.20 L332.75,212.74 L333.99,212.29 L335.24,211.83 L336.49,211.37 L337.74,210.91 L338.98,210.45 L340.23,209.99 L341.48,209.53 L342.72,209.06 L343.97,208.59 L345.22,208.13 L346.46,207.65 L347.71,207.18 L348.96,206.70 L350.21,206.23 L351.45,205.74 L352.70,205.26 L353.95,204.77 L355.19,204.27 L356.44,203.78 L357.69,203.27 L358.93,202.77 L360.18,202.26 L361.43,201.74 L362.68,201.22 L363.92,200.69 L365.17,200.16 L366.42,199.62 L367.66,199.07 L368.91,198.52 L370.16,197.96 L371.40,197.39 L372.65,196.82 L373.90,196.24 L375.15,195.65 L376.39,195.06 L377.64,194.45 L378.89,193.84 L380.13,193.22 L381.38,192.59 L382.63,191.95 L383.87,191.30 L385.12,190.64 L386.37,189.98 L387.62,189.30 L388.86,188.61 L390.11,187.91 L391.36,187.20 L392.60,186.48 L393.85,185.75 L395.10,185.01 L396.34,184.25 L397.59,183.49 L398.84,182.71 L400.09,181.92 L401.33,181.11 L402.58,180.30 L403.83,179.47 L405.07,178.62 L406.32,177.77 L407.57,176.89 L408.81,176.01 L410.06,175.11 L411.31,174.19 L412.56,173.27 L413.80,172.32 L415.05,171.36 L416.30,170.39 L417.54,169.40 L418.79,168.39 L420.04,167.37 L421.28,166.33 L422.53,165.27 L423.78,164.19 L425.03,163.10 L426.27,161.99 L427.52,160.87 L428.77,159.72 L430.01,158.56 L431.26,157.38 L432.51,156.18 L433.75,154.96 L435.00,153.72 L436.25,152.46 L437.50,151.18 L438.74,149.88 L439.99,148.57 L441.24,147.23 L442.48,145.87 L443.73,144.49 L444.98,143.08 L446.22,141.66 L447.47,140.21 L448.72,138.75 L449.97,137.26 L451.21,135.75 L452.46,134.21 L453.71,132.65 L454.95,131.07 L456.20,129.47 L457.45,127.84 L458.70,126.19 L459.94,124.51 L461.19,122.81 L462.44,121.08 L463.68,119.33 L464.93,117.55 L466.18,115.75 L467.42,113.92 L468.67,112.07 L469.92,110.19 L471.17,108.28 L472.41,106.35 L473.66,104.39 L474.91,102.40 L476.15,100.39 L477.40,98.34 L478.65,96.27 L479.89,94.17" stroke="#2f8f2f" stroke-width="0.9" fill="none" stroke-dasharray="1,1"/>
<circle cx="331.50" cy="213.20" r="1.7" fill="#fff" stroke="#ff2a2a" stroke-width="0.9"/>
<circle cx="335.15" cy="212.11" r="1.7" fill="#fff" stroke="#ff2a2a" stroke-width="0.9"/>
<circle cx="338.80" cy="211.01" r="1.7" fill="#fff" stroke="#ff2a2a" stroke-width="0.9"/>
<circle cx="342.45" cy="209.91" r="1.7" fill="#fff" stroke="#ff2a2a" stroke-width="0.9"/>
<circle cx="346.09" cy="208.80" r="1.7" fill="#fff" stroke="#ff2a2a" stroke-width="0.9"/>
<circle cx="349.74" cy="207.68" r="1.7" fill="#fff" stroke="#ff2a2a" stroke-width="0.9"/>
<circle cx="353.39" cy="206.54" r="1.7" fill="#fff" stroke="#ff2a2a" stroke-width="0.9"/>
<circle cx="357.04" cy="205.38" r="1.7" fill="#fff" stroke="#ff2a2a" stroke-width="0.9"/>
<circle cx="360.69" cy="204.19" r="1.7" fill="#fff" stroke="#ff2a2a" stroke-width="0.9"/>
<circle cx="364.34" cy="202.98" r="1.7" fill="#fff" stroke="#ff2a2a" stroke-width="0.9"/>
<circle cx="367.99" cy="201.73" r="1.7" fill="#fff" stroke="#ff2a2a" stroke-width="0.9"/>
<circle cx="371.64" cy="200.44" r="1.7" fill="#fff" stroke="#ff2a2a" stroke-width="0.9"/>
<circle cx="375.28" cy="199.11" r="1.7" fill="#fff" stroke="#ff2a2a" stroke-width="0.9"/>
<circle cx="378.93" cy="197.73" r="1.7" fill="#fff" stroke="#ff2a2a" stroke-width="0.9"/>
<circle cx="382.58" cy="196.30" r="1.7" fill="#fff" stroke="#ff2a2a" stroke-width="0.9"/>
<circle cx="386.23" cy="194.80" r="1.7" fill="#fff" stroke="#ff2a2a" stroke-width="0.9"/>
<circle cx="389.88" cy="193.25" r="1.7" fill="#fff" stroke="#ff2a2a" stroke-width="0.9"/>
<circle cx="393.53" cy="191.63" r="1.7" fill="#fff" stroke="#ff2a2a" stroke-width="0.9"/>
<circle cx="397.18" cy="189.93" r="1.7" fill="#fff" stroke="#ff2a2a" stroke-width="0.9"/>
<circle cx="400.82" cy="188.16" r="1.7" fill="#fff" stroke="#ff2a2a" stroke-width="0.9"/>
<circle cx="404.47" cy="186.30" r="1.7" fill="#fff" stroke="#ff2a2a" stroke-width="0.9"/>
<circle cx="408.12" cy="184.36" r="1.7" fill="#fff" stroke="#ff2a2a" stroke-width="0.9"/>
<circle cx="411.77" cy="182.32" r="1.7" fill="#fff" stroke="#ff2a2a" stroke-width="0.9"/>
<circle cx="415.42" cy="180.18" r="1.7" fill="#fff" stroke="#ff2a2a" stroke-width="0.9"/>
<circle cx="419.07" cy="177.93" r="1.7" fill="#fff" stroke="#ff2a2a" stroke-width="0.9"/>
<circle cx="422.72" cy="175.58" r="1.7" fill="#fff" stroke="#ff2a2a" stroke-width="0.9"/>
<circle cx="426.36" cy="173.10" r="1.7" fill="#fff" stroke="#ff2a2a" stroke-width="0.9"/>
<circle cx="430.01" cy="170.51" r="1.7" fill="#fff" stroke="#ff2a2a" stroke-width="0.9"/>
<circle cx="433.66" cy="167.79" r="1.7" fill="#fff" stroke="#ff2a2a" stroke-width="0.9"/>
<circle cx="437.31" cy="164.93" r="1.7" fill="#fff" stroke="#ff2a2a" stroke-width="0.9"/>
<circle cx="440.96" cy="161.94" r="1.7" fill="#fff" stroke="#ff2a2a" stroke-width="0.9"/>
<circle cx="444.61" cy="158.80" r="1.7" fill="#fff" stroke="#ff2a2a" stroke-width="0.9"/>
<circle cx="448.26" cy="155.51" r="1.7" fill="#fff" stroke="#ff2a2a" stroke-width="0.9"/>
<circle cx="451.91" cy="152.07" r="1.7" fill="#fff" stroke="#ff2a2a" stroke-width="0.9"/>
<circle cx="455.55" cy="148.46" r="1.7" fill="#fff" stroke="#ff2a2a" stroke-width="0.9"/>
<circle cx="459.20" cy="144.69" r="1.7" fill="#fff" stroke="#ff2a2a" stroke-width="0.9"/>
<circle cx="462.85" cy="140.74" r="1.7" fill="#fff" stroke="#ff2a2a" stroke-width="0.9"/>
<circle cx="466.50" cy="136.61" r="1.7" fill="#fff" stroke="#ff2a2a" stroke-width="0.9"/>
<circle cx="470.15" cy="132.29" r="1.7" fill="#fff" stroke="#ff2a2a" stroke-width="0.9"/>
<circle cx="473.80" cy="127.78" r="1.7" fill="#fff" stroke="#ff2a2a" stroke-width="0.9"/>
<circle cx="477.45" cy="123.08" r="1.7" fill="#fff" stroke="#ff2a2a" stroke-width="0.9"/>
<circle cx="331.50" cy="213.20" r="1.7" fill="#fff" stroke="#2a2aff" stroke-width="0.9"/>
<circle cx="335.15" cy="212.00" r="1.7" fill="#fff" stroke="#2a2aff" stroke-width="0.9"/>
<circle cx="338.80" cy="210.79" r="1.7" fill="#fff" stroke="#2a2aff" stroke-width="0.9"/>
<circle cx="342.45" cy="209.57" r="1.7" fill="#fff" stroke="#2a2aff" stroke-width="0.9"/>
<circle cx="346.09" cy="208.35" r="1.7" fill="#fff" stroke="#2a2aff" stroke-width="0.9"/>
<circle cx="349.74" cy="207.12" r="1.7" fill="#fff" stroke="#2a2aff" stroke-width="0.9"/>
<circle cx="353.39" cy="205.86" r="1.7" fill="#fff" stroke="#2a2aff" stroke-width="0.9"/>
<circle cx="357.04" cy="204.59" r="1.7" fill="#fff" stroke="#2a2aff" stroke-width="0.9"/>
<circle cx="360.69" cy="203.29" r="1.7" fill="#fff" stroke="#2a2aff" stroke-width="0.9"/>
<circle cx="364.34" cy="201.96" r="1.7" fill="#fff" stroke="#2a2aff" stroke-width="0.9"/>
<circle cx="367.99" cy="200.59" r="1.7" fill="#fff" stroke="#2a2aff" stroke-width="0.9"/>
<circle cx="371.64" cy="199.19" r="1.7" fill="#fff" stroke="#2a2aff" stroke-width="0.9"/>
<circle cx="375.28" cy="197.74" r="1.7" fill="#fff" stroke="#2a2aff" stroke-width="0.9"/>
<circle cx="378.93" cy="196.24" r="1.7" fill="#fff" stroke="#2a2aff" stroke-width="0.9"/>
<circle cx="382.58" cy="194.68" r="1.7" fill="#fff" stroke="#2a2aff" stroke-width="0.9"/>
<circle cx="386.23" cy="193.07" r="1.7" fill="#fff" stroke="#2a2aff" stroke-width="0.9"/>
<circle cx="389.88" cy="191.39" r="1.7" fill="#fff" stroke="#2a2aff" stroke-width="0.9"/>
<circle cx="393.53" cy="189.64" r="1.7" fill="#fff" stroke="#2a2aff" stroke-width="0.9"/>
<circle cx="397.18" cy="187.82" r="1.7" fill="#fff" stroke="#2a2aff" stroke-width="0.9"/>
<circle cx="400.82" cy="185.91" r="1.7" fill="#fff" stroke="#2a2aff" stroke-width="0.9"/>
<circle cx="404.47" cy="183.92" r="1.7" fill="#fff" stroke="#2a2aff" stroke-width="0.9"/>
<circle cx="408.12" cy="181.84" r="1.7" fill="#fff" stroke="#2a2aff" stroke-width="0.9"/>
<circle cx="411.77" cy="179.66" r="1.7" fill="#fff" stroke="#2a2aff" stroke-width="0.9"/>
<circle cx="415.42" cy="177.38" r="1.7" fill="#fff" stroke="#2a2aff" stroke-width="0.9"/>
<circle cx="419.07" cy="174.99" r="1.7" fill="#fff" stroke="#2a2aff" stroke-width="0.9"/>
<circle cx="422.72" cy="172.49" r="1.7" fill="#fff" stroke="#2a2aff" stroke-width="0.9"/>
<circle cx="426.36" cy="169.87" r="1.7" fill="#fff" stroke="#2a2aff" stroke-width="0.9"/>
<circle cx="430.01" cy="167.12" r="1.7" fill="#fff" stroke="#2a2aff" stroke-width="0.9"/>
<circle cx="433.66" cy="164.24" r="1.7" fill="#fff" stroke="#2a2aff" stroke-width="0.9"/>
<circle cx="437.31" cy="161.23" r="1.7" fill="#fff" stroke="#2a2aff" stroke-width="0.9"/>
<circle cx="440.96" cy="158.07" r="1.7" fill="#fff" stroke="#2a2aff" stroke-width="0.9"/>
<circle cx="444.61" cy="154.77" r="1.7" fill="#fff" stroke="#2a2aff" stroke-width="0.9"/>
<circle cx="448.26" cy="151.31" r="1.7" fill="#fff" stroke="#2a2aff" stroke-width="0.9"/>
<circle cx="451.91" cy="147.68" r="1.7" fill="#fff" stroke="#2a2aff" stroke-width="0.9"/>
<circle cx="455.55" cy="143.90" r="1.7" fill="#fff" stroke="#2a2aff" stroke-width="0.9"/>
<circle cx="459.20" cy="139.94" r="1.7" fill="#fff" stroke="#2a2aff" stroke-width="0.9"/>
<circle cx="462.85" cy="135.80" r="1.7" fill="#fff" stroke="#2a2aff" stroke-width="0.9"/>
<circle cx="466.50" cy="131.47" r="1.7" fill="#fff" stroke="#2a2aff" stroke-width="0.9"/>
<circle cx="470.15" cy="126.96" r="1.7" fill="#fff" stroke="#2a2aff" stroke-width="0.9"/>
<circle cx="473.80" cy="122.25" r="1.7" fill="#fff" stroke="#2a2aff" stroke-width="0.9"/>
<circle cx="477.45" cy="117.33" r="1.7" fill="#fff" stroke="#2a2aff" stroke-width="0.9"/>
<circle cx="331.50" cy="213.20" r="1.7" fill="#fff" stroke="#ff2aff" stroke-width="0.9"/>
<circle cx="335.15" cy="211.89" r="1.7" fill="#fff" stroke="#ff2aff" stroke-width="0.9"/>
<circle cx="338.80" cy="210.57" r="1.7" fill="#fff" stroke="#ff2aff" stroke-width="0.9"/>
<circle cx="342.45" cy="209.25" r="1.7" fill="#fff" stroke="#ff2aff" stroke-width="0.9"/>
<circle cx="346.09" cy="207.91" r="1.7" fill="#fff" stroke="#ff2aff" stroke-width="0.9"/>
<circle cx="349.74" cy="206.54" r="1.7" fill="#fff" stroke="#ff2aff" stroke-width="0.9"/>
<circle cx="353.39" cy="205.15" r="1.7" fill="#fff" stroke="#ff2aff" stroke-width="0.9"/>
<circle cx="357.04" cy="203.73" r="1.7" fill="#fff" stroke="#ff2aff" stroke-width="0.9"/>
<circle cx="360.69" cy="202.28" r="1.7" fill="#fff" stroke="#ff2aff" stroke-width="0.9"/>
<circle cx="364.34" cy="200.78" r="1.7" fill="#fff" stroke="#ff2aff" stroke-width="0.9"/>
<circle cx="367.99" cy="199.23" r="1.7" fill="#fff" stroke="#ff2aff" stroke-width="0.9"/>
<circle cx="371.64" cy="197.63" r="1.7" fill="#fff" stroke="#ff2aff" stroke-width="0.9"/>
<circle cx="375.28" cy="195.97" r="1.7" fill="#fff" stroke="#ff2aff" stroke-width="0.9"/>
<circle cx="378.93" cy="194.25" r="1.7" fill="#fff" stroke="#ff2aff" stroke-width="0.9"/>
<circle cx="382.58" cy="192.46" r="1.7" fill="#fff" stroke="#ff2aff" stroke-width="0.9"/>
<circle cx="386.23" cy="190.59" r="1.7" fill="#fff" stroke="#ff2aff" stroke-width="0.9"/>
<circle cx="389.88" cy="188.65" r="1.7" fill="#fff" stroke="#ff2aff" stroke-width="0.9"/>
<circle cx="393.53" cy="186.62" r="1.7" fill="#fff" stroke="#ff2aff" stroke-width="0.9"/>
<circle cx="397.18" cy="184.50" r="1.7" fill="#fff" stroke="#ff2aff" stroke-width="0.9"/>
<circle cx="400.82" cy="182.29" r="1.7" fill="#fff" stroke="#ff2aff" stroke-width="0.9"/>
<circle cx="404.47" cy="179.98" r="1.7" fill="#fff" stroke="#ff2aff" stroke-width="0.9"/>
<circle cx="408.12" cy="177.56" r="1.7" fill="#fff" stroke="#ff2aff" stroke-width="0.9"/>
<circle cx="411.77" cy="175.03" r="1.7" fill="#fff" stroke="#ff2aff" stroke-width="0.9"/>
<circle cx="415.42" cy="172.38" r="1.7" fill="#fff" stroke="#ff2aff" stroke-width="0.9"/>
<circle cx="419.07" cy="169.62" r="1.7" fill="#fff" stroke="#ff2aff" stroke-width="0.9"/>
<circle cx="422.72" cy="166.72" r="1.7" fill="#fff" stroke="#ff2aff" stroke-width="0.9"/>
<circle cx="426.36" cy="163.70" r="1.7" fill="#fff" stroke="#ff2aff" stroke-width="0.9"/>
<circle cx="430.01" cy="160.53" r="1.7" fill="#fff" stroke="#ff2aff" stroke-width="0.9"/>
<circle cx="433.66" cy="157.23" r="1.7" fill="#fff" stroke="#ff2aff" stroke-width="0.9"/>
<circle cx="437.31" cy="153.77" r="1.7" fill="#fff" stroke="#ff2aff" stroke-width="0.9"/>
<circle cx="440.96" cy="150.17" r="1.7" fill="#fff" stroke="#ff2aff" stroke-width="0.9"/>
<circle cx="444.61" cy="146.40" r="1.7" fill="#fff" stroke="#ff2aff" stroke-width="0.9"/>
<circle cx="448.26" cy="142.47" r="1.7" fill="#fff" stroke="#ff2aff" stroke-width="0.9"/>
<circle cx="451.91" cy="138.38" r="1.7" fill="#fff" stroke="#ff2aff" stroke-width="0.9"/>
<circle cx="455.55" cy="134.11" r="1.7" fill="#fff" stroke="#ff2aff" stroke-width="0.9"/>
<circle cx="459.20" cy="129.65" r="1.7" fill="#fff" stroke="#ff2aff" stroke-width="0.9"/>
<circle cx="462.85" cy="125.02" r="1.7" fill="#fff" stroke="#ff2aff" stroke-width="0.9"/>
<circle cx="466.50" cy="120.19" r="1.7" fill="#fff" stroke="#ff2aff" stroke-width="0.9"/>
<circle cx="470.15" cy="115.17" r="1.7" fill="#fff" stroke="#ff2aff" stroke-width="0.9"/>
<circle cx="473.80" cy="109.95" r="1.7" fill="#fff" stroke="#ff2aff" stroke-width="0.9"/>
<circle cx="477.45" cy="104.52" r="1.7" fill="#fff" stroke="#ff2aff" stroke-width="0.9"/>
<circle cx="331.50" cy="213.20" r="1.7" fill="#fff" stroke="#2f8f2f" stroke-width="0.9"/>
<circle cx="335.15" cy="211.86" r="1.7" fill="#fff" stroke="#2f8f2f" stroke-width="0.9"/>
<circle cx="338.80" cy="210.52" r="1.7" fill="#fff" stroke="#2f8f2f" stroke-width="0.9"/>
<circle cx="342.45" cy="209.16" r="1.7" fill="#fff" stroke="#2f8f2f" stroke-width="0.9"/>
<circle cx="346.09" cy="207.79" r="1.7" fill="#fff" stroke="#2f8f2f" stroke-width="0.9"/>
<circle cx="349.74" cy="206.40" r="1.7" fill="#fff" stroke="#2f8f2f" stroke-width="0.9"/>
<circle cx="353.39" cy="204.99" r="1.7" fill="#fff" stroke="#2f8f2f" stroke-width="0.9"/>
<circle cx="357.04" cy="203.53" r="1.7" fill="#fff" stroke="#2f8f2f" stroke-width="0.9"/>
<circle cx="360.69" cy="202.05" r="1.7" fill="#fff" stroke="#2f8f2f" stroke-width="0.9"/>
<circle cx="364.34" cy="200.51" r="1.7" fill="#fff" stroke="#2f8f2f" stroke-width="0.9"/>
<circle cx="367.99" cy="198.93" r="1.7" fill="#fff" stroke="#2f8f2f" stroke-width="0.9"/>
<circle cx="371.64" cy="197.29" r="1.7" fill="#fff" stroke="#2f8f2f" stroke-width="0.9"/>
<circle cx="375.28" cy="195.59" r="1.7" fill="#fff" stroke="#2f8f2f" stroke-width="0.9"/>
<circle cx="378.93" cy="193.82" r="1.7" fill="#fff" stroke="#2f8f2f" stroke-width="0.9"/>
<circle cx="382.58" cy="191.97" r="1.7" fill="#fff" stroke="#2f8f2f" stroke-width="0.9"/>
<circle cx="386.23" cy="190.05" r="1.7" fill="#fff" stroke="#2f8f2f" stroke-width="0.9"/>
<circle cx="389.88" cy="188.04" r="1.7" fill="#fff" stroke="#2f8f2f" stroke-width="0.9"/>
<circle cx="393.53" cy="185.94" r="1.7" fill="#fff" stroke="#2f8f2f" stroke-width="0.9"/>
<circle cx="397.18" cy="183.74" r="1.7" fill="#fff" stroke="#2f8f2f" stroke-width="0.9"/>
<circle cx="400.82" cy="181.44" r="1.7" fill="#fff" stroke="#2f8f2f" stroke-width="0.9"/>
<circle cx="404.47" cy="179.03" r="1.7" fill="#fff" stroke="#2f8f2f" stroke-width="0.9"/>
<circle cx="408.12" cy="176.50" r="1.7" fill="#fff" stroke="#2f8f2f" stroke-width="0.9"/>
<circle cx="411.77" cy="173.85" r="1.7" fill="#fff" stroke="#2f8f2f" stroke-width="0.9"/>
<circle cx="415.42" cy="171.08" r="1.7" fill="#fff" stroke="#2f8f2f" stroke-width="0.9"/>
<circle cx="419.07" cy="168.16" r="1.7" fill="#fff" stroke="#2f8f2f" stroke-width="0.9"/>
<circle cx="422.72" cy="165.11" r="1.7" fill="#fff" stroke="#2f8f2f" stroke-width="0.9"/>
<circle cx="426.36" cy="161.91" r="1.7" fill="#fff" stroke="#2f8f2f" stroke-width="0.9"/>
<circle cx="430.01" cy="158.56" r="1.7" fill="#fff" stroke="#2f8f2f" stroke-width="0.9"/>
<circle cx="433.66" cy="155.05" r="1.7" fill="#fff" stroke="#2f8f2f" stroke-width="0.9"/>
<circle cx="437.31" cy="151.37" r="1.7" fill="#fff" stroke="#2f8f2f" stroke-width="0.9"/>
<circle cx="440.96" cy="147.53" r="1.7" fill="#fff" stroke="#2f8f2f" stroke-width="0.9"/>
<circle cx="444.61" cy="143.50" r="1.7" fill="#fff" stroke="#2f8f2f" stroke-width="0.9"/>
<circle cx="448.26" cy="139.29" r="1.7" fill="#fff" stroke="#2f8f2f" stroke-width="0.9"/>
<circle cx="451.91" cy="134.90" r="1.7" fill="#fff" stroke="#2f8f2f" stroke-width="0.9"/>
<circle cx="455.55" cy="130.30" r="1.7" fill="#fff" stroke="#2f8f2f" stroke-width="0.9"/>
<circle cx="459.20" cy="125.51" r="1.7" fill="#fff" stroke="#2f8f2f" stroke-width="0.9"/>
<circle cx="462.85" cy="120.50" r="1.7" fill="#fff" stroke="#2f8f2f" stroke-width="0.9"/>
<circle cx="466.50" cy="115.28" r="1.7" fill="#fff" stroke="#2f8f2f" stroke-width="0.9"/>
<circle cx="470.15" cy="109.84" r="1.7" fill="#fff" stroke="#2f8f2f" stroke-width="0.9"/>
<circle cx="473.80" cy="104.17" r="1.7" fill="#fff" stroke="#2f8f2f" stroke-width="0.9"/>
<circle cx="477.45" cy="98.27" r="1.7" fill="#fff" stroke="#2f8f2f" stroke-width="0.9"/>
<text x="421.6" y="87.9" text-anchor="end" font-family="Liberation Sans, Arial, sans-serif" font-size="9.5" fill="#111">Experimental results</text>
<text x="421.6" y="116.0" text-anchor="end" font-family="Liberation Sans, Arial, sans-serif" font-size="9.6" fill="#111">Caculated results</text>
<path d="M428.9,74.0 C426.2,74.3 425.6,76.0 425.6,78.5 L425.6,82.4 C425.6,84.4 424.6,85.10000000000001 422.7,85.4 C424.6,85.7 425.6,86.4 425.6,88.4 L425.6,92.3 C425.6,94.8 426.2,96.5 428.9,96.8" stroke="#111" stroke-width="1.15" fill="none"/>
<path d="M428.9,101.9 C426.2,102.2 425.6,103.9 425.6,106.4 L425.6,109.95 C425.6,111.95 424.6,112.65 422.7,112.95 C424.6,113.25 425.6,113.95 425.6,115.95 L425.6,119.5 C425.6,122.0 426.2,123.7 428.9,124.0" stroke="#111" stroke-width="1.15" fill="none"/>
<circle cx="437.5" cy="74.10" r="1.7" fill="none" stroke="#ff2a2a" stroke-width="0.9"/>
<path d="M431.1,102.50 H445.0" stroke="#ff2a2a" stroke-width="1.3" stroke-dasharray="1.4,1.75"/>
<circle cx="437.5" cy="81.30" r="1.7" fill="none" stroke="#2a2aff" stroke-width="0.9"/>
<path d="M431.1,109.50 H445.0" stroke="#2a2aff" stroke-width="1.3" stroke-dasharray="1.4,1.75"/>
<circle cx="437.5" cy="88.50" r="1.7" fill="none" stroke="#ff2aff" stroke-width="0.9"/>
<path d="M431.1,116.50 H445.0" stroke="#ff2aff" stroke-width="1.3" stroke-dasharray="1.4,1.75"/>
<circle cx="437.5" cy="95.70" r="1.7" fill="none" stroke="#2f8f2f" stroke-width="0.9"/>
<path d="M431.1,123.50 H445.0" stroke="#2f8f2f" stroke-width="1.3" stroke-dasharray="1.4,1.75"/>
<text x="481" y="94.6" font-family="Liberation Sans, Arial, sans-serif" font-size="9.4" fill="#2f8f2f"><tspan font-style="italic">B</tspan>=330mT</text>
<text x="481" y="104.4" font-family="Liberation Sans, Arial, sans-serif" font-size="9.4" fill="#ff2aff"><tspan font-style="italic">B</tspan>=275mT</text>
<text x="481" y="114.5" font-family="Liberation Sans, Arial, sans-serif" font-size="9.4" fill="#2a2aff"><tspan font-style="italic">B</tspan>=160mT</text>
<text x="481" y="124.5" font-family="Liberation Sans, Arial, sans-serif" font-size="9.4" fill="#ff2a2a"><tspan font-style="italic">B</tspan>=0mT</text>
</svg>
</body></html>
